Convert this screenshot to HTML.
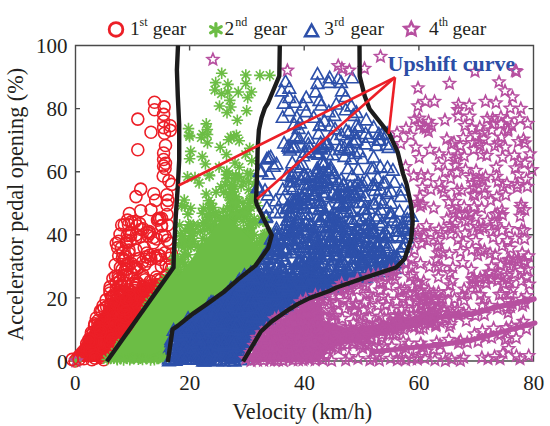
<!DOCTYPE html>
<html><head><meta charset="utf-8"><style>
html,body{margin:0;padding:0;background:#fff;width:550px;height:426px;overflow:hidden}
svg{display:block}
text{font-family:"Liberation Serif",serif;fill:#231f20}
</style></head><body>
<svg width="550" height="426" viewBox="0 0 550 426">
<defs>
<circle id="o" cx="0" cy="0" r="6" fill="none" stroke="#ec1f27" stroke-width="1.6"/>
<path id="a" d="M-5.80 0.00L5.80 0.00M-4.10 -4.10L4.10 4.10M-0.00 -5.80L0.00 5.80M4.10 -4.10L-4.10 4.10" stroke="#6cbd45" stroke-width="1.6"/>
<path id="t" d="M0 -5.6L6.3 5.8L-6.3 5.8Z" fill="none" stroke="#2d50aa" stroke-width="1.65" stroke-linejoin="miter"/>
<polygon id="s" points="0.00,-5.10 1.62,-1.22 5.80,-0.89 2.62,1.85 3.59,5.94 0.00,3.75 -3.59,5.94 -2.62,1.85 -5.80,-0.89 -1.62,-1.22" fill="none" stroke="#b750a0" stroke-width="1.65"/>
</defs>
<path d="M75.5 45.5H533.5V361H75.5Z" fill="none" stroke="#4a4a4a" stroke-width="1.4"/><path d="M189.6 45.5v5M189.6 361v-5M304.2 45.5v5M304.2 361v-5M418.9 45.5v5M418.9 361v-5M75 297.9h5M533.5 297.9h-5M75 234.8h5M533.5 234.8h-5M75 171.7h5M533.5 171.7h-5M75 108.6h5M533.5 108.6h-5" stroke="#4a4a4a" stroke-width="1.4"/><polygon points="125.0,292.0 150.0,282.0 170.0,272.0 111.0,362.0 68.0,362.0 72.0,354.0 80.0,345.0 90.0,330.0 109.0,300.0" fill="#ec1f27" /><use href="#o" x="137.4" y="283.1"/><use href="#o" x="120.9" y="296.7"/><use href="#o" x="122.5" y="258.0"/><use href="#o" x="116.0" y="303.8"/><use href="#o" x="135.7" y="285.1"/><use href="#o" x="128.4" y="264.9"/><use href="#o" x="144.9" y="279.8"/><use href="#o" x="99.5" y="341.6"/><use href="#o" x="160.6" y="280.0"/><use href="#o" x="131.5" y="292.3"/><use href="#o" x="155.4" y="256.2"/><use href="#o" x="158.0" y="218.9"/><use href="#o" x="119.3" y="290.4"/><use href="#o" x="150.3" y="281.2"/><use href="#o" x="135.9" y="281.0"/><use href="#o" x="102.3" y="353.7"/><use href="#o" x="119.0" y="328.2"/><use href="#o" x="142.4" y="262.3"/><use href="#o" x="121.9" y="290.7"/><use href="#o" x="146.9" y="253.0"/><use href="#o" x="116.9" y="315.8"/><use href="#o" x="152.0" y="296.5"/><use href="#o" x="123.0" y="252.9"/><use href="#o" x="126.3" y="243.0"/><use href="#o" x="133.3" y="283.2"/><use href="#o" x="130.1" y="310.3"/><use href="#o" x="142.7" y="296.6"/><use href="#o" x="128.7" y="304.6"/><use href="#o" x="118.6" y="278.7"/><use href="#o" x="118.4" y="311.1"/><use href="#o" x="156.5" y="277.0"/><use href="#o" x="125.7" y="269.2"/><use href="#o" x="161.6" y="226.0"/><use href="#o" x="123.3" y="335.3"/><use href="#o" x="140.3" y="236.6"/><use href="#o" x="132.3" y="320.1"/><use href="#o" x="128.9" y="253.3"/><use href="#o" x="120.4" y="267.4"/><use href="#o" x="126.3" y="323.7"/><use href="#o" x="108.6" y="339.4"/><use href="#o" x="166.6" y="276.3"/><use href="#o" x="106.6" y="306.8"/><use href="#o" x="122.3" y="338.9"/><use href="#o" x="118.7" y="255.7"/><use href="#o" x="169.3" y="266.9"/><use href="#o" x="145.9" y="288.3"/><use href="#o" x="141.1" y="229.5"/><use href="#o" x="126.2" y="326.6"/><use href="#o" x="124.4" y="292.4"/><use href="#o" x="112.8" y="336.7"/><use href="#o" x="117.0" y="294.8"/><use href="#o" x="146.9" y="303.8"/><use href="#o" x="118.1" y="315.1"/><use href="#o" x="149.9" y="285.9"/><use href="#o" x="151.8" y="292.0"/><use href="#o" x="127.7" y="315.5"/><use href="#o" x="117.4" y="305.2"/><use href="#o" x="116.6" y="292.8"/><use href="#o" x="98.1" y="320.5"/><use href="#o" x="134.7" y="323.2"/><use href="#o" x="113.4" y="326.2"/><use href="#o" x="124.4" y="317.0"/><use href="#o" x="135.2" y="287.6"/><use href="#o" x="93.6" y="332.0"/><use href="#o" x="91.9" y="355.0"/><use href="#o" x="124.6" y="283.2"/><use href="#o" x="138.2" y="313.3"/><use href="#o" x="138.6" y="284.0"/><use href="#o" x="147.7" y="261.0"/><use href="#o" x="91.4" y="332.5"/><use href="#o" x="146.9" y="232.2"/><use href="#o" x="115.1" y="340.5"/><use href="#o" x="105.8" y="355.7"/><use href="#o" x="149.8" y="255.1"/><use href="#o" x="120.0" y="281.1"/><use href="#o" x="161.4" y="266.5"/><use href="#o" x="129.5" y="321.7"/><use href="#o" x="117.6" y="247.6"/><use href="#o" x="110.1" y="323.3"/><use href="#o" x="134.1" y="295.2"/><use href="#o" x="129.8" y="292.3"/><use href="#o" x="122.1" y="269.6"/><use href="#o" x="99.7" y="324.9"/><use href="#o" x="133.1" y="323.5"/><use href="#o" x="136.3" y="234.7"/><use href="#o" x="112.5" y="350.5"/><use href="#o" x="126.9" y="265.7"/><use href="#o" x="160.7" y="259.5"/><use href="#o" x="124.4" y="330.2"/><use href="#o" x="130.3" y="241.0"/><use href="#o" x="102.8" y="355.3"/><use href="#o" x="149.5" y="233.5"/><use href="#o" x="132.2" y="274.3"/><use href="#o" x="111.0" y="303.7"/><use href="#o" x="109.1" y="352.1"/><use href="#o" x="124.6" y="294.5"/><use href="#o" x="118.7" y="241.2"/><use href="#o" x="169.7" y="243.3"/><use href="#o" x="128.4" y="309.4"/><use href="#o" x="133.7" y="305.9"/><use href="#o" x="129.0" y="250.1"/><use href="#o" x="118.6" y="286.3"/><use href="#o" x="123.7" y="333.0"/><use href="#o" x="109.0" y="324.1"/><use href="#o" x="133.2" y="312.5"/><use href="#o" x="113.4" y="315.3"/><use href="#o" x="135.0" y="305.4"/><use href="#o" x="103.0" y="305.7"/><use href="#o" x="146.2" y="256.9"/><use href="#o" x="130.8" y="263.1"/><use href="#o" x="171.5" y="268.7"/><use href="#o" x="167.6" y="225.0"/><use href="#o" x="119.8" y="331.2"/><use href="#o" x="139.6" y="223.6"/><use href="#o" x="132.3" y="321.8"/><use href="#o" x="115.2" y="264.7"/><use href="#o" x="110.3" y="339.7"/><use href="#o" x="96.3" y="318.0"/><use href="#o" x="118.8" y="295.5"/><use href="#o" x="166.2" y="264.9"/><use href="#o" x="94.8" y="323.7"/><use href="#o" x="115.9" y="338.1"/><use href="#o" x="155.0" y="284.8"/><use href="#o" x="131.4" y="221.9"/><use href="#o" x="162.3" y="235.4"/><use href="#o" x="159.6" y="218.5"/><use href="#o" x="86.7" y="343.6"/><use href="#o" x="135.0" y="221.6"/><use href="#o" x="103.6" y="328.7"/><use href="#o" x="121.7" y="225.0"/><use href="#o" x="150.9" y="258.9"/><use href="#o" x="116.5" y="300.4"/><use href="#o" x="111.5" y="297.3"/><use href="#o" x="99.4" y="325.5"/><use href="#o" x="91.2" y="335.0"/><use href="#o" x="109.4" y="331.4"/><use href="#o" x="130.4" y="272.5"/><use href="#o" x="144.2" y="247.8"/><use href="#o" x="144.9" y="264.6"/><use href="#o" x="107.5" y="354.4"/><use href="#o" x="134.9" y="288.3"/><use href="#o" x="114.9" y="348.3"/><use href="#o" x="97.0" y="331.9"/><use href="#o" x="103.5" y="326.9"/><use href="#o" x="129.3" y="320.3"/><use href="#o" x="129.8" y="305.3"/><use href="#o" x="160.1" y="255.7"/><use href="#o" x="135.8" y="249.9"/><use href="#o" x="158.4" y="255.2"/><use href="#o" x="137.8" y="308.0"/><use href="#o" x="153.5" y="242.7"/><use href="#o" x="133.6" y="311.7"/><use href="#o" x="143.3" y="286.6"/><use href="#o" x="143.1" y="228.8"/><use href="#o" x="121.3" y="247.9"/><use href="#o" x="164.9" y="235.9"/><use href="#o" x="161.5" y="218.3"/><use href="#o" x="143.8" y="277.7"/><use href="#o" x="113.9" y="331.7"/><use href="#o" x="126.8" y="324.0"/><use href="#o" x="125.8" y="315.2"/><use href="#o" x="156.8" y="239.0"/><use href="#o" x="92.9" y="340.2"/><use href="#o" x="139.5" y="307.0"/><use href="#o" x="118.2" y="276.2"/><use href="#o" x="157.5" y="288.1"/><use href="#o" x="96.9" y="335.2"/><use href="#o" x="112.5" y="339.6"/><use href="#o" x="97.9" y="324.3"/><use href="#o" x="116.1" y="283.1"/><use href="#o" x="142.7" y="274.7"/><use href="#o" x="101.0" y="354.9"/><use href="#o" x="123.9" y="308.9"/><use href="#o" x="116.6" y="315.3"/><use href="#o" x="99.5" y="356.4"/><use href="#o" x="127.0" y="240.2"/><use href="#o" x="141.6" y="291.3"/><use href="#o" x="123.1" y="275.8"/><use href="#o" x="106.1" y="299.9"/><use href="#o" x="134.8" y="290.6"/><use href="#o" x="128.1" y="302.3"/><use href="#o" x="91.8" y="347.7"/><use href="#o" x="109.8" y="324.7"/><use href="#o" x="143.0" y="289.7"/><use href="#o" x="101.8" y="310.6"/><use href="#o" x="112.9" y="278.5"/><use href="#o" x="135.4" y="266.6"/><use href="#o" x="134.5" y="294.3"/><use href="#o" x="124.9" y="306.0"/><use href="#o" x="156.3" y="284.6"/><use href="#o" x="119.0" y="315.4"/><use href="#o" x="169.5" y="258.2"/><use href="#o" x="137.1" y="268.9"/><use href="#o" x="87.1" y="349.9"/><use href="#o" x="106.3" y="354.8"/><use href="#o" x="157.5" y="220.3"/><use href="#o" x="110.1" y="293.0"/><use href="#o" x="131.4" y="299.7"/><use href="#o" x="115.5" y="276.3"/><use href="#o" x="97.4" y="329.4"/><use href="#o" x="123.7" y="260.2"/><use href="#o" x="112.1" y="296.3"/><use href="#o" x="116.3" y="289.6"/><use href="#o" x="171.7" y="254.1"/><use href="#o" x="109.2" y="344.9"/><use href="#o" x="127.0" y="331.4"/><use href="#o" x="142.6" y="299.9"/><use href="#o" x="161.4" y="225.5"/><use href="#o" x="128.8" y="289.9"/><use href="#o" x="133.5" y="324.9"/><use href="#o" x="124.6" y="260.0"/><use href="#o" x="116.5" y="303.4"/><use href="#o" x="128.4" y="295.6"/><use href="#o" x="127.2" y="269.1"/><use href="#o" x="104.3" y="350.5"/><use href="#o" x="109.9" y="290.2"/><use href="#o" x="127.7" y="310.7"/><use href="#o" x="166.0" y="275.6"/><use href="#o" x="126.8" y="329.5"/><use href="#o" x="125.6" y="312.1"/><use href="#o" x="149.2" y="231.6"/><use href="#o" x="153.3" y="237.5"/><use href="#o" x="92.8" y="341.3"/><use href="#o" x="100.3" y="311.0"/><use href="#o" x="129.6" y="232.9"/><use href="#o" x="166.7" y="275.7"/><use href="#o" x="110.3" y="337.0"/><use href="#o" x="120.6" y="285.1"/><use href="#o" x="89.1" y="339.4"/><use href="#o" x="113.9" y="296.3"/><use href="#o" x="134.8" y="268.0"/><use href="#o" x="99.2" y="328.3"/><use href="#o" x="125.3" y="256.7"/><use href="#o" x="165.0" y="252.8"/><use href="#o" x="154.9" y="294.0"/><use href="#o" x="121.1" y="325.3"/><use href="#o" x="114.6" y="324.1"/><use href="#o" x="123.9" y="328.4"/><use href="#o" x="143.5" y="299.7"/><use href="#o" x="114.1" y="350.1"/><use href="#o" x="121.0" y="296.6"/><use href="#o" x="156.6" y="258.2"/><use href="#o" x="91.8" y="353.0"/><use href="#o" x="110.6" y="344.8"/><use href="#o" x="167.1" y="240.2"/><use href="#o" x="94.5" y="325.9"/><use href="#o" x="127.4" y="235.4"/><use href="#o" x="146.0" y="290.0"/><use href="#o" x="107.1" y="354.5"/><use href="#o" x="129.8" y="296.3"/><use href="#o" x="126.3" y="275.1"/><use href="#o" x="146.1" y="299.4"/><use href="#o" x="110.1" y="286.9"/><use href="#o" x="125.9" y="316.9"/><use href="#o" x="124.3" y="224.8"/><use href="#o" x="89.0" y="340.2"/><use href="#o" x="121.7" y="330.5"/><use href="#o" x="104.1" y="308.5"/><use href="#o" x="123.5" y="308.9"/><use href="#o" x="157.9" y="279.6"/><use href="#o" x="148.1" y="235.6"/><use href="#o" x="100.5" y="331.9"/><use href="#o" x="129.9" y="315.8"/><use href="#o" x="135.7" y="238.5"/><use href="#o" x="138.9" y="258.6"/><use href="#o" x="130.7" y="235.4"/><use href="#o" x="109.4" y="308.2"/><use href="#o" x="126.3" y="299.9"/><use href="#o" x="154.5" y="102.2"/><use href="#o" x="154.5" y="109.7"/><use href="#o" x="164.1" y="106.9"/><use href="#o" x="137.8" y="119.1"/><use href="#o" x="163.6" y="114.4"/><use href="#o" x="163.6" y="121.0"/><use href="#o" x="170.2" y="125.7"/><use href="#o" x="151.0" y="132.3"/><use href="#o" x="163.6" y="127.6"/><use href="#o" x="170.2" y="130.4"/><use href="#o" x="164.5" y="133.2"/><use href="#o" x="137.8" y="149.8"/><use href="#o" x="165.5" y="145.5"/><use href="#o" x="163.6" y="153.0"/><use href="#o" x="163.6" y="159.5"/><use href="#o" x="165.5" y="163.3"/><use href="#o" x="163.6" y="166.0"/><use href="#o" x="165.1" y="168.5"/><use href="#o" x="163.2" y="176.0"/><use href="#o" x="168.8" y="180.7"/><use href="#o" x="171.7" y="184.4"/><use href="#o" x="140.7" y="189.1"/><use href="#o" x="136.0" y="196.6"/><use href="#o" x="153.8" y="193.8"/><use href="#o" x="167.0" y="194.7"/><use href="#o" x="155.7" y="200.4"/><use href="#o" x="167.9" y="200.4"/><use href="#o" x="167.0" y="205.0"/><use href="#o" x="151.0" y="209.8"/><use href="#o" x="140.7" y="210.7"/><use href="#o" x="129.4" y="213.5"/><use href="#o" x="127.5" y="220.1"/><use href="#o" x="159.5" y="218.2"/><use href="#o" x="167.0" y="214.5"/><use href="#o" x="128.5" y="224.8"/><use href="#o" x="137.0" y="225.7"/><use href="#o" x="120.0" y="234.2"/><use href="#o" x="116.3" y="243.3"/><use href="#a" x="202.8" y="256.6"/><use href="#a" x="226.9" y="178.6"/><use href="#a" x="182.0" y="292.9"/><use href="#a" x="222.1" y="276.5"/><use href="#a" x="179.0" y="310.9"/><use href="#a" x="183.0" y="262.6"/><use href="#a" x="202.8" y="238.2"/><use href="#a" x="153.4" y="315.1"/><use href="#a" x="160.7" y="338.8"/><use href="#a" x="199.8" y="303.2"/><use href="#a" x="244.0" y="258.1"/><use href="#a" x="226.8" y="243.8"/><use href="#a" x="182.2" y="242.7"/><use href="#a" x="207.5" y="265.5"/><use href="#a" x="161.4" y="320.6"/><use href="#a" x="231.3" y="205.9"/><use href="#a" x="143.5" y="320.0"/><use href="#a" x="205.3" y="288.8"/><use href="#a" x="184.2" y="264.8"/><use href="#a" x="221.2" y="243.9"/><use href="#a" x="154.2" y="324.3"/><use href="#a" x="162.8" y="353.4"/><use href="#a" x="252.9" y="223.6"/><use href="#a" x="162.8" y="304.1"/><use href="#a" x="225.8" y="245.1"/><use href="#a" x="202.3" y="302.8"/><use href="#a" x="200.5" y="231.4"/><use href="#a" x="165.4" y="344.6"/><use href="#a" x="232.5" y="201.5"/><use href="#a" x="166.5" y="286.0"/><use href="#a" x="260.0" y="257.1"/><use href="#a" x="226.8" y="171.4"/><use href="#a" x="181.0" y="275.7"/><use href="#a" x="203.1" y="222.9"/><use href="#a" x="193.4" y="225.1"/><use href="#a" x="207.9" y="298.6"/><use href="#a" x="134.9" y="341.9"/><use href="#a" x="224.4" y="234.6"/><use href="#a" x="128.5" y="345.9"/><use href="#a" x="199.4" y="263.4"/><use href="#a" x="234.6" y="186.8"/><use href="#a" x="213.2" y="207.5"/><use href="#a" x="233.2" y="248.7"/><use href="#a" x="198.9" y="265.8"/><use href="#a" x="140.1" y="333.8"/><use href="#a" x="243.4" y="181.6"/><use href="#a" x="215.8" y="227.0"/><use href="#a" x="172.0" y="276.2"/><use href="#a" x="248.5" y="255.7"/><use href="#a" x="229.1" y="194.6"/><use href="#a" x="185.1" y="230.2"/><use href="#a" x="141.7" y="331.4"/><use href="#a" x="171.7" y="283.2"/><use href="#a" x="223.1" y="281.5"/><use href="#a" x="187.2" y="280.3"/><use href="#a" x="267.2" y="247.0"/><use href="#a" x="247.6" y="233.2"/><use href="#a" x="200.2" y="288.7"/><use href="#a" x="187.5" y="244.9"/><use href="#a" x="138.0" y="347.4"/><use href="#a" x="231.4" y="191.6"/><use href="#a" x="180.6" y="282.9"/><use href="#a" x="185.3" y="278.1"/><use href="#a" x="230.9" y="244.8"/><use href="#a" x="237.9" y="268.7"/><use href="#a" x="191.8" y="271.4"/><use href="#a" x="166.8" y="340.7"/><use href="#a" x="232.3" y="265.9"/><use href="#a" x="246.6" y="243.1"/><use href="#a" x="180.0" y="278.6"/><use href="#a" x="206.8" y="251.0"/><use href="#a" x="136.5" y="344.5"/><use href="#a" x="135.8" y="339.1"/><use href="#a" x="260.6" y="245.1"/><use href="#a" x="191.8" y="279.7"/><use href="#a" x="242.0" y="242.4"/><use href="#a" x="234.3" y="258.3"/><use href="#a" x="215.4" y="212.7"/><use href="#a" x="222.9" y="238.7"/><use href="#a" x="150.7" y="310.2"/><use href="#a" x="207.0" y="283.2"/><use href="#a" x="203.6" y="295.2"/><use href="#a" x="165.5" y="279.1"/><use href="#a" x="250.6" y="207.7"/><use href="#a" x="220.9" y="186.8"/><use href="#a" x="207.7" y="228.9"/><use href="#a" x="244.3" y="261.9"/><use href="#a" x="240.6" y="215.4"/><use href="#a" x="264.3" y="234.3"/><use href="#a" x="188.1" y="254.8"/><use href="#a" x="229.8" y="194.2"/><use href="#a" x="252.7" y="244.1"/><use href="#a" x="265.6" y="249.7"/><use href="#a" x="199.1" y="281.9"/><use href="#a" x="151.3" y="325.0"/><use href="#a" x="185.0" y="264.3"/><use href="#a" x="225.8" y="255.6"/><use href="#a" x="206.5" y="263.5"/><use href="#a" x="243.5" y="231.6"/><use href="#a" x="181.7" y="235.9"/><use href="#a" x="221.1" y="258.3"/><use href="#a" x="235.8" y="219.2"/><use href="#a" x="165.8" y="322.9"/><use href="#a" x="235.2" y="269.6"/><use href="#a" x="165.1" y="355.5"/><use href="#a" x="139.7" y="339.1"/><use href="#a" x="144.0" y="340.9"/><use href="#a" x="248.6" y="257.1"/><use href="#a" x="241.6" y="259.0"/><use href="#a" x="265.7" y="248.3"/><use href="#a" x="236.3" y="196.9"/><use href="#a" x="180.9" y="275.4"/><use href="#a" x="189.5" y="269.2"/><use href="#a" x="209.5" y="207.5"/><use href="#a" x="227.3" y="208.4"/><use href="#a" x="167.3" y="318.5"/><use href="#a" x="179.6" y="274.8"/><use href="#a" x="191.6" y="307.1"/><use href="#a" x="238.4" y="255.0"/><use href="#a" x="115.9" y="355.4"/><use href="#a" x="185.3" y="246.0"/><use href="#a" x="159.2" y="332.7"/><use href="#a" x="150.7" y="341.6"/><use href="#a" x="239.1" y="253.0"/><use href="#a" x="136.2" y="352.8"/><use href="#a" x="249.9" y="221.8"/><use href="#a" x="216.1" y="192.2"/><use href="#a" x="155.3" y="349.6"/><use href="#a" x="206.8" y="223.9"/><use href="#a" x="186.8" y="298.4"/><use href="#a" x="250.1" y="235.0"/><use href="#a" x="148.0" y="319.8"/><use href="#a" x="192.6" y="233.1"/><use href="#a" x="234.8" y="281.2"/><use href="#a" x="150.4" y="315.1"/><use href="#a" x="155.2" y="351.7"/><use href="#a" x="177.2" y="269.4"/><use href="#a" x="239.2" y="176.5"/><use href="#a" x="229.1" y="242.5"/><use href="#a" x="158.5" y="358.4"/><use href="#a" x="156.1" y="339.6"/><use href="#a" x="259.8" y="251.0"/><use href="#a" x="210.3" y="264.8"/><use href="#a" x="173.2" y="308.6"/><use href="#a" x="221.6" y="235.7"/><use href="#a" x="235.4" y="207.2"/><use href="#a" x="181.7" y="205.9"/><use href="#a" x="165.6" y="322.7"/><use href="#a" x="233.5" y="214.2"/><use href="#a" x="178.2" y="314.7"/><use href="#a" x="168.5" y="349.9"/><use href="#a" x="199.2" y="264.7"/><use href="#a" x="160.9" y="339.0"/><use href="#a" x="153.9" y="297.7"/><use href="#a" x="239.1" y="201.0"/><use href="#a" x="155.8" y="298.7"/><use href="#a" x="172.7" y="325.0"/><use href="#a" x="250.4" y="200.8"/><use href="#a" x="167.2" y="327.1"/><use href="#a" x="166.2" y="304.4"/><use href="#a" x="214.7" y="273.3"/><use href="#a" x="260.9" y="238.3"/><use href="#a" x="154.3" y="329.3"/><use href="#a" x="159.2" y="335.2"/><use href="#a" x="165.8" y="332.3"/><use href="#a" x="194.2" y="241.1"/><use href="#a" x="242.3" y="263.0"/><use href="#a" x="159.4" y="291.4"/><use href="#a" x="141.2" y="354.2"/><use href="#a" x="199.6" y="254.3"/><use href="#a" x="246.5" y="216.7"/><use href="#a" x="213.9" y="260.6"/><use href="#a" x="221.7" y="220.8"/><use href="#a" x="150.2" y="306.7"/><use href="#a" x="160.3" y="309.9"/><use href="#a" x="210.7" y="301.0"/><use href="#a" x="209.8" y="293.6"/><use href="#a" x="263.9" y="238.4"/><use href="#a" x="187.1" y="297.8"/><use href="#a" x="206.5" y="268.3"/><use href="#a" x="241.6" y="247.7"/><use href="#a" x="192.9" y="290.7"/><use href="#a" x="128.0" y="339.1"/><use href="#a" x="208.5" y="259.6"/><use href="#a" x="229.7" y="239.7"/><use href="#a" x="232.2" y="198.2"/><use href="#a" x="208.9" y="274.8"/><use href="#a" x="195.5" y="290.3"/><use href="#a" x="121.9" y="343.1"/><use href="#a" x="192.7" y="265.3"/><use href="#a" x="211.1" y="253.6"/><use href="#a" x="214.3" y="232.1"/><use href="#a" x="200.8" y="253.5"/><use href="#a" x="141.7" y="319.9"/><use href="#a" x="126.8" y="348.1"/><use href="#a" x="226.1" y="288.2"/><use href="#a" x="223.7" y="236.3"/><use href="#a" x="260.2" y="243.1"/><use href="#a" x="119.6" y="347.5"/><use href="#a" x="177.4" y="302.0"/><use href="#a" x="174.0" y="327.2"/><use href="#a" x="165.1" y="282.3"/><use href="#a" x="240.2" y="232.2"/><use href="#a" x="248.0" y="225.3"/><use href="#a" x="167.5" y="318.6"/><use href="#a" x="237.1" y="216.3"/><use href="#a" x="249.0" y="239.1"/><use href="#a" x="205.9" y="248.6"/><use href="#a" x="189.1" y="238.4"/><use href="#a" x="225.9" y="239.3"/><use href="#a" x="233.2" y="236.6"/><use href="#a" x="226.0" y="217.0"/><use href="#a" x="223.7" y="192.5"/><use href="#a" x="243.1" y="258.9"/><use href="#a" x="187.9" y="273.4"/><use href="#a" x="255.6" y="223.5"/><use href="#a" x="266.1" y="233.7"/><use href="#a" x="231.9" y="185.5"/><use href="#a" x="207.7" y="219.7"/><use href="#a" x="201.2" y="262.1"/><use href="#a" x="206.2" y="274.4"/><use href="#a" x="232.6" y="238.3"/><use href="#a" x="168.9" y="313.9"/><use href="#a" x="178.2" y="288.0"/><use href="#a" x="253.4" y="260.8"/><use href="#a" x="140.4" y="327.4"/><use href="#a" x="139.1" y="348.5"/><use href="#a" x="200.3" y="272.2"/><use href="#a" x="178.2" y="260.9"/><use href="#a" x="217.3" y="274.4"/><use href="#a" x="146.8" y="343.8"/><use href="#a" x="242.7" y="210.1"/><use href="#a" x="211.0" y="249.2"/><use href="#a" x="138.4" y="340.0"/><use href="#a" x="206.8" y="240.7"/><use href="#a" x="249.8" y="233.5"/><use href="#a" x="169.1" y="305.4"/><use href="#a" x="144.3" y="332.0"/><use href="#a" x="254.2" y="218.7"/><use href="#a" x="130.5" y="353.9"/><use href="#a" x="229.9" y="200.0"/><use href="#a" x="186.6" y="315.2"/><use href="#a" x="202.1" y="275.3"/><use href="#a" x="222.9" y="277.8"/><use href="#a" x="179.1" y="287.1"/><use href="#a" x="218.3" y="259.4"/><use href="#a" x="227.7" y="229.2"/><use href="#a" x="172.4" y="327.9"/><use href="#a" x="241.1" y="186.2"/><use href="#a" x="186.0" y="309.9"/><use href="#a" x="180.4" y="259.9"/><use href="#a" x="235.9" y="175.5"/><use href="#a" x="250.4" y="259.7"/><use href="#a" x="163.3" y="328.8"/><use href="#a" x="215.5" y="215.7"/><use href="#a" x="257.3" y="205.7"/><use href="#a" x="132.2" y="347.5"/><use href="#a" x="172.7" y="294.9"/><use href="#a" x="207.8" y="283.7"/><use href="#a" x="213.3" y="228.0"/><use href="#a" x="250.1" y="268.5"/><use href="#a" x="152.0" y="356.7"/><use href="#a" x="208.4" y="296.0"/><use href="#a" x="148.6" y="336.3"/><use href="#a" x="189.9" y="243.5"/><use href="#a" x="253.6" y="193.9"/><use href="#a" x="237.1" y="177.7"/><use href="#a" x="205.7" y="271.3"/><use href="#a" x="213.2" y="234.0"/><use href="#a" x="178.7" y="245.6"/><use href="#a" x="183.6" y="318.2"/><use href="#a" x="190.8" y="247.3"/><use href="#a" x="120.4" y="345.1"/><use href="#a" x="250.3" y="173.7"/><use href="#a" x="144.8" y="337.4"/><use href="#a" x="158.4" y="340.3"/><use href="#a" x="182.2" y="293.4"/><use href="#a" x="261.3" y="247.6"/><use href="#a" x="242.7" y="252.4"/><use href="#a" x="187.9" y="214.1"/><use href="#a" x="174.2" y="258.4"/><use href="#a" x="160.4" y="334.6"/><use href="#a" x="220.1" y="253.0"/><use href="#a" x="219.1" y="267.3"/><use href="#a" x="168.3" y="348.7"/><use href="#a" x="140.0" y="343.3"/><use href="#a" x="257.0" y="243.6"/><use href="#a" x="180.5" y="233.8"/><use href="#a" x="215.4" y="248.9"/><use href="#a" x="222.9" y="229.7"/><use href="#a" x="211.0" y="203.4"/><use href="#a" x="157.4" y="345.9"/><use href="#a" x="223.9" y="244.3"/><use href="#a" x="266.1" y="250.6"/><use href="#a" x="214.2" y="286.0"/><use href="#a" x="157.4" y="294.8"/><use href="#a" x="263.0" y="240.3"/><use href="#a" x="158.7" y="348.8"/><use href="#a" x="184.0" y="247.7"/><use href="#a" x="207.4" y="218.0"/><use href="#a" x="185.1" y="296.0"/><use href="#a" x="133.8" y="358.7"/><use href="#a" x="198.1" y="246.4"/><use href="#a" x="243.0" y="203.2"/><use href="#a" x="154.9" y="324.9"/><use href="#a" x="134.8" y="346.7"/><use href="#a" x="184.6" y="244.1"/><use href="#a" x="270.7" y="233.3"/><use href="#a" x="171.2" y="271.3"/><use href="#a" x="188.8" y="224.7"/><use href="#a" x="249.6" y="255.7"/><use href="#a" x="233.2" y="240.3"/><use href="#a" x="202.9" y="255.2"/><use href="#a" x="172.2" y="275.4"/><use href="#a" x="169.0" y="283.6"/><use href="#a" x="202.6" y="304.6"/><use href="#a" x="170.2" y="325.0"/><use href="#a" x="240.5" y="249.0"/><use href="#a" x="143.6" y="349.5"/><use href="#a" x="247.5" y="232.3"/><use href="#a" x="250.2" y="257.2"/><use href="#a" x="235.9" y="275.7"/><use href="#a" x="179.3" y="288.7"/><use href="#a" x="235.3" y="206.6"/><use href="#a" x="164.1" y="289.4"/><use href="#a" x="249.7" y="200.3"/><use href="#a" x="179.5" y="292.2"/><use href="#a" x="232.0" y="243.6"/><use href="#a" x="202.6" y="249.7"/><use href="#a" x="242.9" y="209.9"/><use href="#a" x="181.1" y="302.7"/><use href="#a" x="227.4" y="269.5"/><use href="#a" x="165.0" y="286.5"/><use href="#a" x="240.8" y="276.7"/><use href="#a" x="240.6" y="233.7"/><use href="#a" x="155.8" y="320.7"/><use href="#a" x="150.2" y="323.9"/><use href="#a" x="216.9" y="235.9"/><use href="#a" x="268.7" y="236.8"/><use href="#a" x="201.7" y="246.8"/><use href="#a" x="266.8" y="236.1"/><use href="#a" x="160.6" y="305.8"/><use href="#a" x="162.5" y="347.5"/><use href="#a" x="155.0" y="352.3"/><use href="#a" x="229.2" y="220.1"/><use href="#a" x="156.3" y="329.7"/><use href="#a" x="132.3" y="348.2"/><use href="#a" x="177.3" y="303.3"/><use href="#a" x="229.6" y="264.7"/><use href="#a" x="139.9" y="338.8"/><use href="#a" x="206.2" y="194.0"/><use href="#a" x="188.4" y="290.1"/><use href="#a" x="156.1" y="329.5"/><use href="#a" x="214.3" y="245.5"/><use href="#a" x="179.6" y="275.9"/><use href="#a" x="203.9" y="252.7"/><use href="#a" x="215.8" y="237.2"/><use href="#a" x="164.2" y="301.3"/><use href="#a" x="209.5" y="241.5"/><use href="#a" x="226.6" y="233.7"/><use href="#a" x="172.1" y="294.9"/><use href="#a" x="205.7" y="294.8"/><use href="#a" x="208.6" y="217.3"/><use href="#a" x="181.6" y="288.1"/><use href="#a" x="156.9" y="328.8"/><use href="#a" x="151.2" y="347.9"/><use href="#a" x="235.7" y="267.9"/><use href="#a" x="221.4" y="245.1"/><use href="#a" x="180.7" y="276.6"/><use href="#a" x="169.1" y="327.0"/><use href="#a" x="188.0" y="299.6"/><use href="#a" x="232.5" y="225.6"/><use href="#a" x="250.2" y="262.4"/><use href="#a" x="161.1" y="307.1"/><use href="#a" x="225.4" y="268.0"/><use href="#a" x="155.8" y="317.6"/><use href="#a" x="166.9" y="334.2"/><use href="#a" x="222.4" y="285.9"/><use href="#a" x="238.1" y="275.9"/><use href="#a" x="168.7" y="337.5"/><use href="#a" x="149.7" y="302.3"/><use href="#a" x="120.6" y="352.5"/><use href="#a" x="202.0" y="263.2"/><use href="#a" x="116.9" y="358.7"/><use href="#a" x="208.0" y="253.0"/><use href="#a" x="234.3" y="203.4"/><use href="#a" x="146.4" y="336.7"/><use href="#a" x="233.4" y="191.9"/><use href="#a" x="153.2" y="338.1"/><use href="#a" x="210.6" y="224.6"/><use href="#a" x="222.7" y="241.2"/><use href="#a" x="226.3" y="277.5"/><use href="#a" x="249.0" y="233.7"/><use href="#a" x="250.7" y="236.1"/><use href="#a" x="184.6" y="254.2"/><use href="#a" x="206.4" y="286.4"/><use href="#a" x="206.3" y="264.7"/><use href="#a" x="153.1" y="338.0"/><use href="#a" x="159.6" y="323.5"/><use href="#a" x="202.2" y="213.2"/><use href="#a" x="208.6" y="289.3"/><use href="#a" x="159.5" y="337.7"/><use href="#a" x="122.3" y="348.0"/><use href="#a" x="214.4" y="261.1"/><use href="#a" x="184.7" y="206.2"/><use href="#a" x="231.9" y="234.9"/><use href="#a" x="208.6" y="200.8"/><use href="#a" x="208.3" y="213.9"/><use href="#a" x="194.0" y="308.5"/><use href="#a" x="230.5" y="267.3"/><use href="#a" x="136.5" y="343.4"/><use href="#a" x="160.3" y="344.5"/><use href="#a" x="230.0" y="221.3"/><use href="#a" x="184.4" y="238.9"/><use href="#a" x="186.8" y="276.3"/><use href="#a" x="214.8" y="221.8"/><use href="#a" x="248.0" y="210.5"/><use href="#a" x="204.3" y="260.3"/><use href="#a" x="202.9" y="252.5"/><use href="#a" x="174.0" y="311.7"/><use href="#a" x="177.0" y="300.4"/><use href="#a" x="215.6" y="214.3"/><use href="#a" x="220.2" y="218.5"/><use href="#a" x="197.3" y="246.9"/><use href="#a" x="156.0" y="335.8"/><use href="#a" x="225.4" y="261.1"/><use href="#a" x="185.4" y="255.9"/><use href="#a" x="261.3" y="219.5"/><use href="#a" x="206.7" y="272.6"/><use href="#a" x="230.5" y="208.9"/><use href="#a" x="118.2" y="350.8"/><use href="#a" x="229.8" y="256.5"/><use href="#a" x="156.4" y="325.2"/><use href="#a" x="241.6" y="240.3"/><use href="#a" x="225.5" y="184.5"/><use href="#a" x="170.0" y="301.2"/><use href="#a" x="155.4" y="320.5"/><use href="#a" x="240.7" y="260.7"/><use href="#a" x="208.0" y="299.0"/><use href="#a" x="166.5" y="327.9"/><use href="#a" x="213.8" y="286.8"/><use href="#a" x="191.2" y="229.0"/><use href="#a" x="203.3" y="208.3"/><use href="#a" x="175.3" y="319.0"/><use href="#a" x="196.1" y="277.5"/><use href="#a" x="217.3" y="287.7"/><use href="#a" x="156.8" y="314.2"/><use href="#a" x="206.7" y="299.8"/><use href="#a" x="155.9" y="335.7"/><use href="#a" x="168.7" y="330.0"/><use href="#a" x="139.2" y="349.9"/><use href="#a" x="229.0" y="173.6"/><use href="#a" x="174.4" y="327.3"/><use href="#a" x="235.4" y="177.9"/><use href="#a" x="262.9" y="221.3"/><use href="#a" x="162.3" y="284.6"/><use href="#a" x="194.3" y="311.6"/><use href="#a" x="132.1" y="342.6"/><use href="#a" x="193.0" y="289.4"/><use href="#a" x="179.8" y="299.6"/><use href="#a" x="243.3" y="221.2"/><use href="#a" x="223.8" y="251.8"/><use href="#a" x="264.1" y="219.9"/><use href="#a" x="179.6" y="224.9"/><use href="#a" x="239.1" y="212.1"/><use href="#a" x="232.8" y="215.9"/><use href="#a" x="234.6" y="268.0"/><use href="#a" x="232.5" y="215.3"/><use href="#a" x="237.7" y="235.8"/><use href="#a" x="197.3" y="299.0"/><use href="#a" x="202.1" y="304.9"/><use href="#a" x="190.2" y="292.8"/><use href="#a" x="176.9" y="322.3"/><use href="#a" x="191.9" y="235.8"/><use href="#a" x="173.1" y="301.5"/><use href="#a" x="254.1" y="184.3"/><use href="#a" x="189.4" y="285.8"/><use href="#a" x="264.0" y="221.4"/><use href="#a" x="131.2" y="350.8"/><use href="#a" x="220.8" y="241.3"/><use href="#a" x="241.0" y="230.7"/><use href="#a" x="140.9" y="350.4"/><use href="#a" x="156.4" y="351.0"/><use href="#a" x="235.1" y="221.6"/><use href="#a" x="250.6" y="198.7"/><use href="#a" x="222.5" y="278.8"/><use href="#a" x="202.5" y="304.5"/><use href="#a" x="185.5" y="313.5"/><use href="#a" x="190.5" y="273.3"/><use href="#a" x="151.5" y="305.4"/><use href="#a" x="183.2" y="273.5"/><use href="#a" x="251.2" y="265.0"/><use href="#a" x="162.1" y="328.9"/><use href="#a" x="251.0" y="228.4"/><use href="#a" x="213.7" y="250.8"/><use href="#a" x="198.0" y="225.6"/><use href="#a" x="236.0" y="213.3"/><use href="#a" x="202.8" y="276.2"/><use href="#a" x="242.1" y="214.9"/><use href="#a" x="235.4" y="202.9"/><use href="#a" x="156.7" y="349.1"/><use href="#a" x="130.0" y="358.5"/><use href="#a" x="184.7" y="295.9"/><use href="#a" x="253.9" y="199.8"/><use href="#a" x="195.0" y="177.6"/><use href="#a" x="118.1" y="356.8"/><use href="#a" x="196.5" y="264.8"/><use href="#a" x="126.7" y="347.4"/><use href="#a" x="148.9" y="315.5"/><use href="#a" x="139.1" y="328.9"/><use href="#a" x="220.7" y="266.9"/><use href="#a" x="218.5" y="260.6"/><use href="#a" x="165.0" y="349.9"/><use href="#a" x="190.1" y="308.0"/><use href="#a" x="233.3" y="196.1"/><use href="#a" x="172.4" y="301.2"/><use href="#a" x="195.6" y="302.4"/><use href="#a" x="257.4" y="259.6"/><use href="#a" x="248.8" y="206.1"/><use href="#a" x="264.2" y="238.2"/><use href="#a" x="143.6" y="347.0"/><use href="#a" x="150.1" y="347.3"/><use href="#a" x="248.7" y="189.8"/><use href="#a" x="115.1" y="352.1"/><use href="#a" x="150.2" y="311.2"/><use href="#a" x="175.3" y="267.1"/><use href="#a" x="251.1" y="224.5"/><use href="#a" x="222.3" y="255.8"/><use href="#a" x="110.5" y="358.5"/><use href="#a" x="206.1" y="280.6"/><use href="#a" x="124.7" y="355.1"/><use href="#a" x="164.3" y="290.5"/><use href="#a" x="190.1" y="229.3"/><use href="#a" x="229.4" y="197.2"/><use href="#a" x="168.2" y="281.9"/><use href="#a" x="226.1" y="265.0"/><use href="#a" x="247.4" y="234.5"/><use href="#a" x="190.5" y="225.4"/><use href="#a" x="247.5" y="214.9"/><use href="#a" x="245.1" y="213.0"/><use href="#a" x="248.4" y="181.5"/><use href="#a" x="192.9" y="232.4"/><use href="#a" x="222.7" y="279.7"/><use href="#a" x="142.4" y="347.5"/><use href="#a" x="202.5" y="262.0"/><use href="#a" x="140.5" y="358.2"/><use href="#a" x="199.7" y="304.5"/><use href="#a" x="171.6" y="295.0"/><use href="#a" x="142.9" y="324.2"/><use href="#a" x="231.3" y="184.6"/><use href="#a" x="177.8" y="263.7"/><use href="#a" x="254.4" y="234.9"/><use href="#a" x="231.9" y="257.1"/><use href="#a" x="212.3" y="230.0"/><use href="#a" x="153.7" y="326.8"/><use href="#a" x="236.6" y="272.0"/><use href="#a" x="186.1" y="275.1"/><use href="#a" x="175.5" y="269.0"/><use href="#a" x="176.1" y="256.8"/><use href="#a" x="181.8" y="239.6"/><use href="#a" x="160.4" y="333.3"/><use href="#a" x="189.3" y="310.5"/><use href="#a" x="187.3" y="277.8"/><use href="#a" x="223.4" y="211.2"/><use href="#a" x="177.7" y="310.5"/><use href="#a" x="243.2" y="251.9"/><use href="#a" x="185.8" y="274.9"/><use href="#a" x="189.2" y="305.3"/><use href="#a" x="187.3" y="283.8"/><use href="#a" x="158.8" y="332.8"/><use href="#a" x="204.8" y="229.6"/><use href="#a" x="147.4" y="328.7"/><use href="#a" x="146.8" y="307.6"/><use href="#a" x="169.0" y="314.8"/><use href="#a" x="209.2" y="175.1"/><use href="#a" x="194.2" y="288.3"/><use href="#a" x="184.7" y="312.2"/><polygon points="225.0,214.0 262.0,250.0 253.4,265.6 235.8,279.6 221.7,292.0 205.9,303.4 191.8,313.1 183.0,320.0 176.0,325.6 170.5,329.4 165.8,362.0 110.0,362.0 172.0,272.0 178.0,277.0" fill="#6cbd45" /><use href="#a" x="221.7" y="73.2"/><use href="#a" x="245.8" y="75.0"/><use href="#a" x="259.9" y="75.4"/><use href="#a" x="269.8" y="75.4"/><use href="#a" x="215.7" y="82.6"/><use href="#a" x="227.9" y="84.4"/><use href="#a" x="245.8" y="83.5"/><use href="#a" x="214.8" y="90.0"/><use href="#a" x="221.4" y="93.8"/><use href="#a" x="227.9" y="92.0"/><use href="#a" x="238.3" y="92.0"/><use href="#a" x="251.4" y="92.0"/><use href="#a" x="247.7" y="97.6"/><use href="#a" x="229.8" y="100.4"/><use href="#a" x="219.5" y="106.0"/><use href="#a" x="230.8" y="107.0"/><use href="#a" x="227.0" y="112.6"/><use href="#a" x="246.7" y="110.8"/><use href="#a" x="237.3" y="120.2"/><use href="#a" x="188.5" y="128.6"/><use href="#a" x="206.3" y="123.9"/><use href="#a" x="207.3" y="129.5"/><use href="#a" x="202.6" y="134.2"/><use href="#a" x="189.4" y="135.2"/><use href="#a" x="230.8" y="137.0"/><use href="#a" x="236.4" y="135.2"/><use href="#a" x="207.5" y="134.5"/><use href="#a" x="189.6" y="136.6"/><use href="#a" x="201.2" y="137.7"/><use href="#a" x="233.9" y="136.6"/><use href="#a" x="228.6" y="139.8"/><use href="#a" x="239.2" y="140.8"/><use href="#a" x="207.5" y="143.0"/><use href="#a" x="220.2" y="147.2"/><use href="#a" x="249.7" y="148.2"/><use href="#a" x="190.7" y="151.4"/><use href="#a" x="202.3" y="156.6"/><use href="#a" x="189.6" y="158.8"/><use href="#a" x="226.5" y="154.5"/><use href="#a" x="245.5" y="154.5"/><use href="#a" x="251.8" y="160.9"/><use href="#a" x="205.4" y="164.0"/><use href="#a" x="235.0" y="163.0"/><use href="#a" x="219.1" y="167.2"/><use href="#a" x="239.2" y="167.2"/><use href="#a" x="187.5" y="176.7"/><use href="#a" x="209.6" y="175.6"/><use href="#a" x="226.5" y="174.6"/><use href="#a" x="247.6" y="173.5"/><use href="#a" x="199.1" y="183.0"/><use href="#a" x="184.3" y="200.0"/><use href="#a" x="190.7" y="208.3"/><polygon points="262.0,272.0 300.0,276.0 350.0,272.0 380.0,272.0 363.6,282.2 336.4,291.5 330.0,294.8 309.6,302.1 298.0,307.9 286.4,315.2 271.8,325.4 260.9,335.5 243.1,362.0 169.0,362.0 170.8,362.0 175.5,329.4 181.0,325.6 188.0,320.0 196.8,313.1 210.9,303.4 226.7,292.0 240.8,279.6 258.4,265.6" fill="#2d50aa" /><use href="#t" x="277.8" y="274.2"/><use href="#t" x="226.9" y="332.7"/><use href="#t" x="223.5" y="344.8"/><use href="#t" x="371.8" y="223.7"/><use href="#t" x="276.9" y="280.5"/><use href="#t" x="335.4" y="226.7"/><use href="#t" x="261.7" y="268.5"/><use href="#t" x="329.6" y="249.8"/><use href="#t" x="215.2" y="334.3"/><use href="#t" x="296.0" y="135.0"/><use href="#t" x="186.7" y="336.5"/><use href="#t" x="294.9" y="248.5"/><use href="#t" x="211.1" y="301.4"/><use href="#t" x="290.4" y="231.2"/><use href="#t" x="266.9" y="289.3"/><use href="#t" x="293.1" y="187.9"/><use href="#t" x="204.8" y="316.5"/><use href="#t" x="285.3" y="284.1"/><use href="#t" x="389.1" y="259.2"/><use href="#t" x="288.7" y="216.0"/><use href="#t" x="246.8" y="318.2"/><use href="#t" x="363.4" y="264.2"/><use href="#t" x="287.1" y="219.2"/><use href="#t" x="308.9" y="287.9"/><use href="#t" x="321.7" y="291.7"/><use href="#t" x="358.2" y="270.3"/><use href="#t" x="310.3" y="175.5"/><use href="#t" x="311.1" y="265.5"/><use href="#t" x="328.6" y="245.6"/><use href="#t" x="253.7" y="290.5"/><use href="#t" x="399.6" y="210.4"/><use href="#t" x="195.1" y="341.6"/><use href="#t" x="353.6" y="194.6"/><use href="#t" x="185.5" y="352.2"/><use href="#t" x="351.5" y="247.2"/><use href="#t" x="223.9" y="305.7"/><use href="#t" x="171.4" y="338.3"/><use href="#t" x="354.6" y="191.8"/><use href="#t" x="341.2" y="186.2"/><use href="#t" x="341.1" y="178.7"/><use href="#t" x="369.1" y="236.5"/><use href="#t" x="277.1" y="248.3"/><use href="#t" x="346.1" y="236.4"/><use href="#t" x="179.6" y="333.2"/><use href="#t" x="275.6" y="199.9"/><use href="#t" x="303.7" y="207.1"/><use href="#t" x="286.9" y="310.2"/><use href="#t" x="264.9" y="258.4"/><use href="#t" x="381.9" y="256.4"/><use href="#t" x="288.4" y="266.9"/><use href="#t" x="328.3" y="207.0"/><use href="#t" x="324.7" y="177.6"/><use href="#t" x="280.3" y="286.0"/><use href="#t" x="292.7" y="180.7"/><use href="#t" x="306.6" y="176.7"/><use href="#t" x="304.4" y="199.0"/><use href="#t" x="173.7" y="343.5"/><use href="#t" x="374.9" y="249.0"/><use href="#t" x="268.0" y="317.8"/><use href="#t" x="385.4" y="232.1"/><use href="#t" x="407.2" y="236.9"/><use href="#t" x="249.8" y="285.0"/><use href="#t" x="203.2" y="343.0"/><use href="#t" x="323.3" y="170.7"/><use href="#t" x="304.4" y="259.3"/><use href="#t" x="344.1" y="183.5"/><use href="#t" x="352.2" y="174.6"/><use href="#t" x="329.5" y="223.5"/><use href="#t" x="257.9" y="282.1"/><use href="#t" x="295.9" y="227.8"/><use href="#t" x="381.7" y="268.6"/><use href="#t" x="253.5" y="307.9"/><use href="#t" x="381.8" y="133.6"/><use href="#t" x="301.6" y="296.5"/><use href="#t" x="297.1" y="224.4"/><use href="#t" x="238.8" y="306.2"/><use href="#t" x="344.7" y="204.6"/><use href="#t" x="310.0" y="264.3"/><use href="#t" x="270.0" y="286.0"/><use href="#t" x="182.7" y="335.3"/><use href="#t" x="275.8" y="234.1"/><use href="#t" x="332.1" y="217.1"/><use href="#t" x="291.8" y="175.9"/><use href="#t" x="382.5" y="236.2"/><use href="#t" x="289.3" y="147.0"/><use href="#t" x="300.2" y="246.3"/><use href="#t" x="323.5" y="282.5"/><use href="#t" x="388.2" y="260.6"/><use href="#t" x="239.1" y="311.4"/><use href="#t" x="240.6" y="351.8"/><use href="#t" x="314.5" y="235.1"/><use href="#t" x="258.3" y="296.9"/><use href="#t" x="276.9" y="247.7"/><use href="#t" x="343.2" y="194.8"/><use href="#t" x="344.9" y="225.6"/><use href="#t" x="327.4" y="141.5"/><use href="#t" x="380.8" y="208.8"/><use href="#t" x="183.4" y="335.3"/><use href="#t" x="255.0" y="326.8"/><use href="#t" x="336.4" y="286.6"/><use href="#t" x="220.4" y="338.9"/><use href="#t" x="321.9" y="272.6"/><use href="#t" x="377.0" y="242.8"/><use href="#t" x="371.2" y="167.7"/><use href="#t" x="221.5" y="337.0"/><use href="#t" x="226.9" y="346.8"/><use href="#t" x="310.5" y="260.2"/><use href="#t" x="237.6" y="317.3"/><use href="#t" x="391.4" y="212.8"/><use href="#t" x="298.1" y="217.0"/><use href="#t" x="380.3" y="261.5"/><use href="#t" x="347.4" y="141.4"/><use href="#t" x="387.0" y="192.6"/><use href="#t" x="233.1" y="337.8"/><use href="#t" x="341.3" y="133.7"/><use href="#t" x="342.1" y="279.9"/><use href="#t" x="380.6" y="250.2"/><use href="#t" x="321.4" y="180.6"/><use href="#t" x="318.0" y="187.7"/><use href="#t" x="256.0" y="301.0"/><use href="#t" x="365.0" y="195.1"/><use href="#t" x="287.4" y="219.2"/><use href="#t" x="321.9" y="161.3"/><use href="#t" x="332.8" y="192.3"/><use href="#t" x="258.5" y="284.9"/><use href="#t" x="250.7" y="330.1"/><use href="#t" x="206.6" y="327.9"/><use href="#t" x="186.0" y="352.4"/><use href="#t" x="350.9" y="194.4"/><use href="#t" x="203.3" y="342.7"/><use href="#t" x="300.6" y="178.3"/><use href="#t" x="362.5" y="261.3"/><use href="#t" x="289.1" y="307.7"/><use href="#t" x="373.5" y="232.4"/><use href="#t" x="190.1" y="329.5"/><use href="#t" x="255.5" y="283.8"/><use href="#t" x="317.9" y="281.0"/><use href="#t" x="338.1" y="213.2"/><use href="#t" x="290.3" y="180.8"/><use href="#t" x="331.7" y="285.1"/><use href="#t" x="186.4" y="324.0"/><use href="#t" x="380.7" y="251.8"/><use href="#t" x="344.7" y="239.7"/><use href="#t" x="339.0" y="201.5"/><use href="#t" x="264.6" y="284.3"/><use href="#t" x="306.8" y="188.0"/><use href="#t" x="338.5" y="254.9"/><use href="#t" x="312.0" y="285.0"/><use href="#t" x="262.6" y="311.7"/><use href="#t" x="277.4" y="292.6"/><use href="#t" x="185.3" y="348.4"/><use href="#t" x="312.0" y="266.8"/><use href="#t" x="371.1" y="246.3"/><use href="#t" x="232.3" y="346.8"/><use href="#t" x="335.2" y="249.8"/><use href="#t" x="376.3" y="144.6"/><use href="#t" x="355.7" y="139.0"/><use href="#t" x="243.4" y="345.7"/><use href="#t" x="224.4" y="305.2"/><use href="#t" x="357.3" y="218.3"/><use href="#t" x="212.4" y="332.5"/><use href="#t" x="266.9" y="158.1"/><use href="#t" x="293.5" y="243.5"/><use href="#t" x="311.1" y="243.3"/><use href="#t" x="209.5" y="356.5"/><use href="#t" x="334.9" y="273.2"/><use href="#t" x="291.5" y="293.2"/><use href="#t" x="213.4" y="326.9"/><use href="#t" x="389.9" y="261.4"/><use href="#t" x="288.2" y="145.4"/><use href="#t" x="255.8" y="298.5"/><use href="#t" x="297.8" y="221.4"/><use href="#t" x="233.8" y="353.4"/><use href="#t" x="331.8" y="284.3"/><use href="#t" x="325.3" y="249.6"/><use href="#t" x="246.1" y="331.1"/><use href="#t" x="313.6" y="248.2"/><use href="#t" x="301.3" y="273.5"/><use href="#t" x="191.0" y="332.2"/><use href="#t" x="394.4" y="181.4"/><use href="#t" x="318.5" y="215.8"/><use href="#t" x="317.8" y="247.2"/><use href="#t" x="319.7" y="124.7"/><use href="#t" x="346.5" y="229.1"/><use href="#t" x="323.9" y="273.5"/><use href="#t" x="373.7" y="167.5"/><use href="#t" x="297.8" y="243.0"/><use href="#t" x="298.1" y="229.6"/><use href="#t" x="241.5" y="289.7"/><use href="#t" x="192.1" y="345.6"/><use href="#t" x="230.3" y="295.0"/><use href="#t" x="313.1" y="233.2"/><use href="#t" x="365.7" y="224.6"/><use href="#t" x="290.7" y="215.2"/><use href="#t" x="351.4" y="238.5"/><use href="#t" x="312.6" y="236.7"/><use href="#t" x="335.9" y="233.9"/><use href="#t" x="275.5" y="307.1"/><use href="#t" x="312.2" y="276.6"/><use href="#t" x="282.4" y="267.4"/><use href="#t" x="314.5" y="274.0"/><use href="#t" x="176.7" y="340.7"/><use href="#t" x="291.5" y="198.8"/><use href="#t" x="366.3" y="276.0"/><use href="#t" x="383.3" y="181.9"/><use href="#t" x="270.7" y="156.0"/><use href="#t" x="297.2" y="268.3"/><use href="#t" x="206.1" y="341.0"/><use href="#t" x="253.3" y="301.2"/><use href="#t" x="243.7" y="344.7"/><use href="#t" x="388.6" y="146.6"/><use href="#t" x="396.5" y="230.1"/><use href="#t" x="339.6" y="148.8"/><use href="#t" x="359.7" y="191.9"/><use href="#t" x="372.8" y="184.0"/><use href="#t" x="299.2" y="260.7"/><use href="#t" x="369.8" y="253.3"/><use href="#t" x="390.7" y="216.2"/><use href="#t" x="308.8" y="240.0"/><use href="#t" x="292.5" y="172.8"/><use href="#t" x="372.7" y="263.3"/><use href="#t" x="403.8" y="228.1"/><use href="#t" x="286.9" y="300.1"/><use href="#t" x="356.8" y="227.5"/><use href="#t" x="344.4" y="155.5"/><use href="#t" x="337.4" y="196.8"/><use href="#t" x="348.9" y="149.1"/><use href="#t" x="223.2" y="314.4"/><use href="#t" x="343.3" y="183.8"/><use href="#t" x="254.3" y="332.1"/><use href="#t" x="384.9" y="267.3"/><use href="#t" x="360.5" y="231.7"/><use href="#t" x="368.3" y="230.9"/><use href="#t" x="301.8" y="195.3"/><use href="#t" x="375.2" y="184.3"/><use href="#t" x="378.8" y="133.1"/><use href="#t" x="181.8" y="348.7"/><use href="#t" x="316.2" y="267.7"/><use href="#t" x="245.3" y="314.2"/><use href="#t" x="381.0" y="224.4"/><use href="#t" x="244.8" y="286.2"/><use href="#t" x="350.6" y="210.5"/><use href="#t" x="298.5" y="260.1"/><use href="#t" x="338.0" y="225.3"/><use href="#t" x="344.2" y="264.0"/><use href="#t" x="194.7" y="334.2"/><use href="#t" x="270.1" y="277.0"/><use href="#t" x="327.8" y="269.4"/><use href="#t" x="406.1" y="229.5"/><use href="#t" x="349.7" y="231.9"/><use href="#t" x="279.2" y="297.6"/><use href="#t" x="250.6" y="316.7"/><use href="#t" x="309.7" y="290.5"/><use href="#t" x="296.7" y="279.4"/><use href="#t" x="354.7" y="248.7"/><use href="#t" x="314.1" y="286.3"/><use href="#t" x="206.9" y="358.0"/><use href="#t" x="347.6" y="246.5"/><use href="#t" x="390.0" y="264.4"/><use href="#t" x="324.7" y="226.8"/><use href="#t" x="279.3" y="250.7"/><use href="#t" x="290.2" y="149.2"/><use href="#t" x="281.9" y="232.9"/><use href="#t" x="362.7" y="157.7"/><use href="#t" x="239.7" y="355.8"/><use href="#t" x="353.0" y="247.8"/><use href="#t" x="331.0" y="219.5"/><use href="#t" x="329.8" y="224.6"/><use href="#t" x="254.3" y="294.2"/><use href="#t" x="229.9" y="292.4"/><use href="#t" x="373.7" y="230.1"/><use href="#t" x="323.7" y="284.4"/><use href="#t" x="296.2" y="237.8"/><use href="#t" x="270.1" y="272.9"/><use href="#t" x="273.7" y="165.4"/><use href="#t" x="252.4" y="288.4"/><use href="#t" x="316.2" y="179.6"/><use href="#t" x="253.2" y="277.0"/><use href="#t" x="248.0" y="317.8"/><use href="#t" x="321.3" y="239.9"/><use href="#t" x="197.2" y="351.6"/><use href="#t" x="306.1" y="222.2"/><use href="#t" x="268.8" y="173.0"/><use href="#t" x="213.0" y="301.6"/><use href="#t" x="350.8" y="251.9"/><use href="#t" x="308.3" y="270.3"/><use href="#t" x="319.2" y="255.7"/><use href="#t" x="334.6" y="138.7"/><use href="#t" x="319.2" y="208.8"/><use href="#t" x="336.9" y="193.3"/><use href="#t" x="220.7" y="342.3"/><use href="#t" x="335.8" y="225.2"/><use href="#t" x="347.5" y="200.8"/><use href="#t" x="267.9" y="194.0"/><use href="#t" x="335.2" y="246.3"/><use href="#t" x="390.3" y="212.1"/><use href="#t" x="386.8" y="143.5"/><use href="#t" x="208.1" y="329.4"/><use href="#t" x="292.9" y="229.4"/><use href="#t" x="296.5" y="282.4"/><use href="#t" x="305.7" y="267.6"/><use href="#t" x="239.8" y="287.8"/><use href="#t" x="235.5" y="315.3"/><use href="#t" x="324.4" y="120.2"/><use href="#t" x="294.7" y="136.3"/><use href="#t" x="272.1" y="304.5"/><use href="#t" x="382.1" y="264.4"/><use href="#t" x="248.2" y="337.4"/><use href="#t" x="256.3" y="271.6"/><use href="#t" x="393.2" y="263.5"/><use href="#t" x="254.3" y="307.6"/><use href="#t" x="396.9" y="235.0"/><use href="#t" x="302.8" y="294.6"/><use href="#t" x="203.3" y="325.0"/><use href="#t" x="339.8" y="279.0"/><use href="#t" x="327.2" y="179.9"/><use href="#t" x="198.2" y="337.7"/><use href="#t" x="173.6" y="329.4"/><use href="#t" x="267.6" y="322.3"/><use href="#t" x="273.3" y="249.2"/><use href="#t" x="215.2" y="348.4"/><use href="#t" x="334.3" y="275.3"/><use href="#t" x="287.0" y="304.1"/><use href="#t" x="385.8" y="260.6"/><use href="#t" x="188.7" y="355.1"/><use href="#t" x="325.4" y="241.0"/><use href="#t" x="238.1" y="312.6"/><use href="#t" x="200.8" y="355.9"/><use href="#t" x="341.1" y="145.1"/><use href="#t" x="297.2" y="285.6"/><use href="#t" x="304.7" y="271.8"/><use href="#t" x="318.1" y="258.2"/><use href="#t" x="265.8" y="269.9"/><use href="#t" x="346.9" y="237.6"/><use href="#t" x="207.2" y="355.9"/><use href="#t" x="358.9" y="245.6"/><use href="#t" x="242.5" y="301.5"/><use href="#t" x="318.4" y="262.0"/><use href="#t" x="303.2" y="246.4"/><use href="#t" x="208.6" y="355.8"/><use href="#t" x="267.5" y="321.6"/><use href="#t" x="301.6" y="280.8"/><use href="#t" x="328.5" y="240.4"/><use href="#t" x="320.2" y="218.9"/><use href="#t" x="347.3" y="279.1"/><use href="#t" x="241.8" y="346.8"/><use href="#t" x="245.0" y="301.6"/><use href="#t" x="308.6" y="193.0"/><use href="#t" x="324.5" y="162.1"/><use href="#t" x="368.1" y="248.5"/><use href="#t" x="354.4" y="234.1"/><use href="#t" x="218.6" y="337.0"/><use href="#t" x="363.8" y="208.5"/><use href="#t" x="243.1" y="306.5"/><use href="#t" x="336.5" y="242.5"/><use href="#t" x="336.7" y="220.5"/><use href="#t" x="282.8" y="188.6"/><use href="#t" x="334.5" y="247.4"/><use href="#t" x="197.2" y="335.3"/><use href="#t" x="214.3" y="336.7"/><use href="#t" x="304.9" y="275.9"/><use href="#t" x="380.5" y="188.5"/><use href="#t" x="239.0" y="343.4"/><use href="#t" x="270.5" y="276.3"/><use href="#t" x="274.9" y="299.0"/><use href="#t" x="194.5" y="355.6"/><use href="#t" x="324.8" y="186.5"/><use href="#t" x="302.5" y="163.3"/><use href="#t" x="237.2" y="287.1"/><use href="#t" x="273.5" y="238.6"/><use href="#t" x="225.9" y="298.2"/><use href="#t" x="387.1" y="246.9"/><use href="#t" x="229.4" y="341.6"/><use href="#t" x="237.5" y="308.2"/><use href="#t" x="276.5" y="249.2"/><use href="#t" x="317.2" y="167.5"/><use href="#t" x="368.8" y="207.4"/><use href="#t" x="302.1" y="197.0"/><use href="#t" x="191.9" y="341.6"/><use href="#t" x="325.0" y="215.4"/><use href="#t" x="398.0" y="258.1"/><use href="#t" x="177.9" y="353.2"/><use href="#t" x="292.9" y="200.1"/><use href="#t" x="322.7" y="184.4"/><use href="#t" x="264.9" y="280.5"/><use href="#t" x="239.6" y="331.3"/><use href="#t" x="282.0" y="269.8"/><use href="#t" x="321.0" y="205.0"/><use href="#t" x="369.8" y="219.5"/><use href="#t" x="284.3" y="282.3"/><use href="#t" x="267.8" y="270.5"/><use href="#t" x="335.1" y="225.7"/><use href="#t" x="171.5" y="340.2"/><use href="#t" x="221.1" y="350.9"/><use href="#t" x="300.1" y="261.2"/><use href="#t" x="346.4" y="228.5"/><use href="#t" x="228.3" y="294.6"/><use href="#t" x="325.9" y="215.0"/><use href="#t" x="362.4" y="181.8"/><use href="#t" x="335.0" y="256.2"/><use href="#t" x="410.2" y="232.7"/><use href="#t" x="287.5" y="229.3"/><use href="#t" x="373.5" y="231.0"/><use href="#t" x="253.6" y="300.9"/><use href="#t" x="331.0" y="270.0"/><use href="#t" x="330.7" y="169.4"/><use href="#t" x="280.2" y="277.8"/><use href="#t" x="229.0" y="315.5"/><use href="#t" x="327.4" y="169.9"/><use href="#t" x="315.8" y="234.5"/><use href="#t" x="205.2" y="348.2"/><use href="#t" x="331.6" y="176.6"/><use href="#t" x="364.1" y="260.3"/><use href="#t" x="348.6" y="191.4"/><use href="#t" x="346.2" y="207.4"/><use href="#t" x="289.8" y="285.6"/><use href="#t" x="366.8" y="179.7"/><use href="#t" x="294.0" y="203.0"/><use href="#t" x="324.3" y="263.1"/><use href="#t" x="383.5" y="241.8"/><use href="#t" x="348.9" y="197.0"/><use href="#t" x="366.5" y="269.8"/><use href="#t" x="374.5" y="241.0"/><use href="#t" x="316.4" y="152.1"/><use href="#t" x="306.5" y="228.7"/><use href="#t" x="315.7" y="173.2"/><use href="#t" x="406.0" y="243.0"/><use href="#t" x="295.7" y="231.4"/><use href="#t" x="312.2" y="183.7"/><use href="#t" x="335.1" y="253.4"/><use href="#t" x="279.5" y="294.1"/><use href="#t" x="354.8" y="195.1"/><use href="#t" x="315.2" y="253.9"/><use href="#t" x="317.5" y="182.1"/><use href="#t" x="343.7" y="211.7"/><use href="#t" x="409.1" y="225.7"/><use href="#t" x="170.0" y="346.9"/><use href="#t" x="388.4" y="244.5"/><use href="#t" x="301.7" y="296.9"/><use href="#t" x="325.1" y="285.4"/><use href="#t" x="377.7" y="177.1"/><use href="#t" x="300.4" y="166.5"/><use href="#t" x="332.0" y="179.0"/><use href="#t" x="292.9" y="226.9"/><use href="#t" x="273.5" y="245.8"/><use href="#t" x="188.1" y="317.6"/><use href="#t" x="337.7" y="220.4"/><use href="#t" x="197.1" y="317.8"/><use href="#t" x="287.9" y="309.6"/><use href="#t" x="279.8" y="303.0"/><use href="#t" x="292.3" y="161.9"/><use href="#t" x="276.0" y="240.6"/><use href="#t" x="284.2" y="248.1"/><use href="#t" x="315.8" y="236.4"/><use href="#t" x="363.6" y="277.6"/><use href="#t" x="321.2" y="205.5"/><use href="#t" x="283.9" y="260.7"/><use href="#t" x="325.9" y="271.6"/><use href="#t" x="318.2" y="252.9"/><use href="#t" x="247.9" y="327.7"/><use href="#t" x="269.0" y="318.0"/><use href="#t" x="372.3" y="260.2"/><use href="#t" x="189.7" y="335.6"/><use href="#t" x="308.3" y="278.5"/><use href="#t" x="319.3" y="247.8"/><use href="#t" x="391.1" y="202.4"/><use href="#t" x="233.2" y="356.7"/><use href="#t" x="248.8" y="314.6"/><use href="#t" x="341.1" y="266.0"/><use href="#t" x="354.8" y="233.1"/><use href="#t" x="307.6" y="202.3"/><use href="#t" x="297.6" y="204.0"/><use href="#t" x="312.1" y="223.6"/><use href="#t" x="342.8" y="243.2"/><use href="#t" x="358.0" y="181.6"/><use href="#t" x="277.5" y="282.3"/><use href="#t" x="292.9" y="296.8"/><use href="#t" x="407.2" y="218.5"/><use href="#t" x="293.0" y="297.4"/><use href="#t" x="233.3" y="345.2"/><use href="#t" x="196.2" y="325.9"/><use href="#t" x="384.3" y="242.0"/><use href="#t" x="253.2" y="337.5"/><use href="#t" x="400.8" y="250.8"/><use href="#t" x="385.9" y="250.0"/><use href="#t" x="396.6" y="255.3"/><use href="#t" x="344.7" y="234.6"/><use href="#t" x="262.7" y="299.6"/><use href="#t" x="196.5" y="344.1"/><use href="#t" x="288.1" y="285.6"/><use href="#t" x="316.9" y="201.5"/><use href="#t" x="339.7" y="230.7"/><use href="#t" x="184.2" y="333.5"/><use href="#t" x="265.5" y="257.7"/><use href="#t" x="317.9" y="293.1"/><use href="#t" x="170.9" y="348.1"/><use href="#t" x="350.2" y="185.7"/><use href="#t" x="237.1" y="293.8"/><use href="#t" x="292.1" y="239.9"/><use href="#t" x="351.3" y="210.2"/><use href="#t" x="277.2" y="252.6"/><use href="#t" x="343.4" y="202.8"/><use href="#t" x="324.3" y="195.6"/><use href="#t" x="307.7" y="256.8"/><use href="#t" x="339.7" y="265.1"/><use href="#t" x="266.4" y="215.7"/><use href="#t" x="327.6" y="253.6"/><use href="#t" x="307.0" y="269.6"/><use href="#t" x="361.7" y="258.9"/><use href="#t" x="178.7" y="348.3"/><use href="#t" x="309.1" y="151.1"/><use href="#t" x="363.1" y="201.2"/><use href="#t" x="308.3" y="143.2"/><use href="#t" x="316.0" y="241.7"/><use href="#t" x="250.7" y="310.1"/><use href="#t" x="267.8" y="309.6"/><use href="#t" x="226.0" y="316.4"/><use href="#t" x="274.1" y="307.9"/><use href="#t" x="268.7" y="157.1"/><use href="#t" x="266.8" y="206.6"/><use href="#t" x="351.2" y="217.9"/><use href="#t" x="353.0" y="221.5"/><use href="#t" x="228.2" y="326.3"/><use href="#t" x="292.8" y="299.7"/><use href="#t" x="394.5" y="267.6"/><use href="#t" x="347.4" y="267.9"/><use href="#t" x="326.8" y="214.5"/><use href="#t" x="300.2" y="213.8"/><use href="#t" x="338.5" y="202.4"/><use href="#t" x="279.6" y="286.9"/><use href="#t" x="235.8" y="350.7"/><use href="#t" x="286.5" y="278.7"/><use href="#t" x="287.4" y="231.2"/><use href="#t" x="380.4" y="249.1"/><use href="#t" x="278.4" y="302.9"/><use href="#t" x="212.0" y="312.6"/><use href="#t" x="304.6" y="183.7"/><use href="#t" x="331.8" y="258.9"/><use href="#t" x="351.9" y="265.2"/><use href="#t" x="262.1" y="316.1"/><use href="#t" x="286.8" y="174.4"/><use href="#t" x="335.2" y="219.5"/><use href="#t" x="245.3" y="323.0"/><use href="#t" x="391.3" y="190.5"/><use href="#t" x="292.8" y="251.7"/><use href="#t" x="226.4" y="351.4"/><use href="#t" x="272.4" y="253.9"/><use href="#t" x="339.5" y="235.6"/><use href="#t" x="218.3" y="304.7"/><use href="#t" x="202.5" y="358.2"/><use href="#t" x="239.0" y="314.1"/><use href="#t" x="320.8" y="221.1"/><use href="#t" x="227.7" y="292.1"/><use href="#t" x="380.2" y="139.3"/><use href="#t" x="373.3" y="259.3"/><use href="#t" x="365.8" y="143.1"/><use href="#t" x="289.3" y="304.3"/><use href="#t" x="260.6" y="301.6"/><use href="#t" x="315.8" y="263.6"/><use href="#t" x="175.7" y="357.2"/><use href="#t" x="287.2" y="223.8"/><use href="#t" x="259.9" y="170.3"/><use href="#t" x="285.1" y="258.7"/><use href="#t" x="284.2" y="305.1"/><use href="#t" x="330.0" y="240.3"/><use href="#t" x="364.4" y="226.7"/><use href="#t" x="365.3" y="246.3"/><use href="#t" x="194.2" y="332.6"/><use href="#t" x="241.8" y="307.6"/><use href="#t" x="311.4" y="277.6"/><use href="#t" x="177.0" y="332.1"/><use href="#t" x="297.5" y="199.6"/><use href="#t" x="280.1" y="295.2"/><use href="#t" x="364.7" y="208.3"/><use href="#t" x="320.3" y="199.9"/><use href="#t" x="318.7" y="132.8"/><use href="#t" x="249.5" y="297.2"/><use href="#t" x="257.0" y="278.0"/><use href="#t" x="236.3" y="293.0"/><use href="#t" x="304.5" y="174.5"/><use href="#t" x="292.8" y="206.5"/><use href="#t" x="238.0" y="353.1"/><use href="#t" x="220.9" y="306.7"/><use href="#t" x="231.0" y="287.2"/><use href="#t" x="361.7" y="185.6"/><use href="#t" x="304.3" y="259.2"/><use href="#t" x="392.9" y="169.3"/><use href="#t" x="238.3" y="318.7"/><use href="#t" x="208.9" y="303.8"/><use href="#t" x="186.6" y="354.6"/><use href="#t" x="242.1" y="323.3"/><use href="#t" x="276.0" y="304.3"/><use href="#t" x="215.7" y="336.5"/><use href="#t" x="359.0" y="256.7"/><use href="#t" x="332.7" y="193.4"/><use href="#t" x="179.3" y="343.0"/><use href="#t" x="287.7" y="288.9"/><use href="#t" x="331.1" y="264.2"/><use href="#t" x="189.7" y="357.7"/><use href="#t" x="266.8" y="252.3"/><use href="#t" x="287.4" y="285.9"/><use href="#t" x="299.4" y="282.8"/><use href="#t" x="302.6" y="243.2"/><use href="#t" x="326.0" y="143.6"/><use href="#t" x="244.4" y="285.4"/><use href="#t" x="360.6" y="263.1"/><use href="#t" x="238.7" y="328.4"/><use href="#t" x="320.6" y="142.1"/><use href="#t" x="378.3" y="245.5"/><use href="#t" x="304.9" y="231.7"/><use href="#t" x="351.4" y="237.0"/><use href="#t" x="319.4" y="252.1"/><use href="#t" x="388.9" y="268.0"/><use href="#t" x="339.8" y="275.6"/><use href="#t" x="179.9" y="342.9"/><use href="#t" x="238.4" y="324.6"/><use href="#t" x="351.3" y="158.0"/><use href="#t" x="172.6" y="340.0"/><use href="#t" x="342.3" y="258.8"/><use href="#t" x="187.3" y="340.0"/><use href="#t" x="284.1" y="142.2"/><use href="#t" x="179.8" y="345.8"/><use href="#t" x="362.8" y="260.3"/><use href="#t" x="242.9" y="278.1"/><use href="#t" x="290.8" y="251.5"/><use href="#t" x="290.5" y="221.8"/><use href="#t" x="248.0" y="299.2"/><use href="#t" x="226.6" y="334.6"/><use href="#t" x="231.5" y="314.8"/><use href="#t" x="258.8" y="268.1"/><use href="#t" x="237.7" y="303.1"/><use href="#t" x="188.5" y="332.4"/><use href="#t" x="194.4" y="320.7"/><use href="#t" x="365.7" y="251.3"/><use href="#t" x="267.4" y="290.1"/><use href="#t" x="309.9" y="260.8"/><use href="#t" x="361.6" y="219.4"/><use href="#t" x="245.6" y="308.2"/><use href="#t" x="258.7" y="288.5"/><use href="#t" x="303.5" y="173.5"/><use href="#t" x="280.8" y="288.6"/><use href="#t" x="282.8" y="290.7"/><use href="#t" x="357.1" y="248.3"/><use href="#t" x="370.0" y="232.3"/><use href="#t" x="249.1" y="308.9"/><use href="#t" x="271.2" y="237.7"/><use href="#t" x="303.3" y="241.6"/><use href="#t" x="366.3" y="241.9"/><use href="#t" x="309.6" y="146.1"/><use href="#t" x="393.2" y="219.5"/><use href="#t" x="302.9" y="275.2"/><use href="#t" x="287.9" y="287.3"/><use href="#t" x="353.9" y="231.9"/><use href="#t" x="201.6" y="337.0"/><use href="#t" x="245.7" y="310.6"/><use href="#t" x="252.6" y="304.7"/><use href="#t" x="341.0" y="222.4"/><use href="#t" x="371.6" y="266.7"/><use href="#t" x="307.5" y="212.9"/><use href="#t" x="346.3" y="235.8"/><use href="#t" x="269.0" y="305.6"/><use href="#t" x="291.2" y="307.6"/><use href="#t" x="402.7" y="246.0"/><use href="#t" x="356.9" y="235.9"/><use href="#t" x="400.8" y="195.6"/><use href="#t" x="181.4" y="335.0"/><use href="#t" x="261.4" y="170.5"/><use href="#t" x="270.4" y="244.5"/><use href="#t" x="365.6" y="132.7"/><use href="#t" x="330.3" y="216.2"/><use href="#t" x="338.2" y="193.5"/><use href="#t" x="319.4" y="273.4"/><use href="#t" x="323.1" y="215.6"/><use href="#t" x="269.5" y="257.1"/><use href="#t" x="378.0" y="215.2"/><use href="#t" x="313.5" y="273.3"/><use href="#t" x="253.9" y="285.9"/><use href="#t" x="297.4" y="219.5"/><use href="#t" x="358.2" y="168.7"/><use href="#t" x="304.7" y="198.9"/><use href="#t" x="287.8" y="204.7"/><use href="#t" x="225.5" y="343.2"/><use href="#t" x="316.4" y="270.4"/><use href="#t" x="276.5" y="292.9"/><use href="#t" x="188.2" y="346.9"/><use href="#t" x="326.3" y="228.2"/><use href="#t" x="226.1" y="343.7"/><use href="#t" x="239.3" y="321.6"/><use href="#t" x="339.2" y="268.7"/><use href="#t" x="262.7" y="263.6"/><use href="#t" x="171.5" y="340.8"/><use href="#t" x="250.9" y="271.8"/><use href="#t" x="379.3" y="199.2"/><use href="#t" x="308.6" y="261.9"/><use href="#t" x="302.7" y="225.8"/><use href="#t" x="364.0" y="235.6"/><use href="#t" x="382.8" y="270.9"/><use href="#t" x="299.1" y="236.6"/><use href="#t" x="315.1" y="193.7"/><use href="#t" x="299.8" y="292.7"/><use href="#t" x="354.9" y="264.9"/><use href="#t" x="276.5" y="163.0"/><use href="#t" x="354.6" y="132.8"/><use href="#t" x="277.5" y="300.0"/><use href="#t" x="328.7" y="233.5"/><use href="#t" x="271.3" y="245.0"/><use href="#t" x="341.9" y="205.9"/><use href="#t" x="320.9" y="147.1"/><use href="#t" x="293.3" y="180.7"/><use href="#t" x="214.9" y="307.6"/><use href="#t" x="291.6" y="205.7"/><use href="#t" x="314.1" y="207.6"/><use href="#t" x="278.2" y="234.6"/><use href="#t" x="232.9" y="324.0"/><use href="#t" x="355.1" y="152.5"/><use href="#t" x="206.4" y="342.2"/><use href="#t" x="224.2" y="347.1"/><use href="#t" x="264.9" y="295.8"/><use href="#t" x="258.5" y="293.0"/><use href="#t" x="387.0" y="234.9"/><use href="#t" x="231.5" y="342.3"/><use href="#t" x="303.2" y="154.9"/><use href="#t" x="327.2" y="153.6"/><use href="#t" x="336.6" y="235.8"/><use href="#t" x="359.9" y="201.4"/><use href="#t" x="388.6" y="236.8"/><use href="#t" x="383.0" y="202.1"/><use href="#t" x="189.7" y="326.4"/><use href="#t" x="347.1" y="282.3"/><use href="#t" x="374.7" y="189.6"/><use href="#t" x="263.6" y="255.7"/><use href="#t" x="296.1" y="245.6"/><use href="#t" x="346.2" y="129.8"/><use href="#t" x="307.6" y="219.3"/><use href="#t" x="380.3" y="165.9"/><use href="#t" x="314.5" y="288.9"/><use href="#t" x="253.1" y="277.1"/><use href="#t" x="187.6" y="353.1"/><use href="#t" x="349.4" y="280.5"/><use href="#t" x="295.7" y="268.1"/><use href="#t" x="218.9" y="323.3"/><use href="#t" x="350.7" y="268.7"/><use href="#t" x="316.8" y="257.3"/><use href="#t" x="298.6" y="262.4"/><use href="#t" x="373.7" y="203.0"/><use href="#t" x="282.6" y="306.3"/><use href="#t" x="382.9" y="233.9"/><use href="#t" x="256.5" y="316.7"/><use href="#t" x="282.1" y="255.0"/><use href="#t" x="348.7" y="147.2"/><use href="#t" x="321.0" y="148.1"/><use href="#t" x="272.1" y="293.9"/><use href="#t" x="332.9" y="153.9"/><use href="#t" x="326.2" y="279.5"/><use href="#t" x="295.0" y="201.4"/><use href="#t" x="208.2" y="357.6"/><use href="#t" x="299.2" y="137.8"/><use href="#t" x="271.1" y="238.0"/><use href="#t" x="370.8" y="256.5"/><use href="#t" x="217.5" y="315.3"/><use href="#t" x="357.8" y="237.8"/><use href="#t" x="288.9" y="284.9"/><use href="#t" x="302.0" y="263.5"/><use href="#t" x="396.8" y="230.4"/><use href="#t" x="344.9" y="235.4"/><use href="#t" x="351.3" y="248.7"/><use href="#t" x="230.6" y="327.3"/><use href="#t" x="344.5" y="147.0"/><use href="#t" x="290.8" y="231.1"/><use href="#t" x="202.2" y="322.8"/><use href="#t" x="190.0" y="339.6"/><use href="#t" x="334.1" y="172.5"/><use href="#t" x="271.9" y="312.7"/><use href="#t" x="194.0" y="344.6"/><use href="#t" x="369.9" y="245.3"/><use href="#t" x="347.2" y="279.9"/><use href="#t" x="238.7" y="290.1"/><use href="#t" x="199.2" y="354.5"/><use href="#t" x="378.2" y="244.6"/><use href="#t" x="411.8" y="215.3"/><use href="#t" x="272.2" y="271.8"/><use href="#t" x="179.0" y="331.0"/><use href="#t" x="230.3" y="336.1"/><use href="#t" x="287.5" y="238.4"/><use href="#t" x="323.6" y="163.3"/><use href="#t" x="270.7" y="310.3"/><use href="#t" x="305.4" y="222.7"/><use href="#t" x="361.0" y="262.6"/><use href="#t" x="402.6" y="222.9"/><use href="#t" x="168.8" y="357.8"/><use href="#t" x="312.1" y="190.1"/><use href="#t" x="338.0" y="283.0"/><use href="#t" x="341.8" y="240.2"/><use href="#t" x="388.2" y="227.9"/><use href="#t" x="229.5" y="295.3"/><use href="#t" x="225.4" y="314.6"/><use href="#t" x="277.0" y="248.3"/><use href="#t" x="284.1" y="237.6"/><use href="#t" x="353.3" y="141.4"/><use href="#t" x="186.0" y="330.4"/><use href="#t" x="230.6" y="342.7"/><use href="#t" x="232.1" y="324.8"/><use href="#t" x="280.5" y="211.6"/><use href="#t" x="225.5" y="325.0"/><use href="#t" x="234.7" y="354.9"/><use href="#t" x="266.9" y="270.5"/><use href="#t" x="241.5" y="285.0"/><use href="#t" x="370.5" y="253.3"/><use href="#t" x="286.1" y="248.8"/><use href="#t" x="277.5" y="245.7"/><use href="#t" x="293.1" y="146.7"/><use href="#t" x="276.7" y="265.8"/><use href="#t" x="219.4" y="344.3"/><use href="#t" x="357.3" y="240.3"/><use href="#t" x="376.1" y="217.7"/><use href="#t" x="326.8" y="250.3"/><use href="#t" x="313.6" y="289.0"/><use href="#t" x="297.1" y="166.5"/><use href="#t" x="342.7" y="190.6"/><use href="#t" x="387.2" y="132.6"/><use href="#t" x="305.0" y="213.3"/><use href="#t" x="252.0" y="341.2"/><use href="#t" x="283.5" y="284.9"/><use href="#t" x="369.7" y="272.5"/><use href="#t" x="308.3" y="137.4"/><use href="#t" x="207.9" y="325.6"/><use href="#t" x="181.9" y="329.0"/><use href="#t" x="321.0" y="274.7"/><use href="#t" x="284.8" y="247.4"/><use href="#t" x="185.1" y="347.0"/><use href="#t" x="352.4" y="250.3"/><use href="#t" x="276.5" y="227.8"/><use href="#t" x="276.4" y="231.2"/><use href="#t" x="354.5" y="185.4"/><use href="#t" x="350.0" y="267.7"/><use href="#t" x="306.4" y="251.6"/><use href="#t" x="212.9" y="355.5"/><use href="#t" x="330.5" y="124.9"/><use href="#t" x="291.4" y="281.2"/><use href="#t" x="234.7" y="298.1"/><use href="#t" x="359.6" y="150.8"/><use href="#t" x="238.1" y="281.0"/><use href="#t" x="188.4" y="354.2"/><use href="#t" x="249.7" y="322.4"/><use href="#t" x="186.0" y="343.4"/><use href="#t" x="199.3" y="338.4"/><use href="#t" x="306.3" y="287.5"/><use href="#t" x="294.1" y="275.8"/><use href="#t" x="341.6" y="194.4"/><use href="#t" x="396.9" y="261.5"/><use href="#t" x="301.4" y="280.9"/><use href="#t" x="282.8" y="198.4"/><use href="#t" x="207.2" y="352.5"/><use href="#t" x="190.4" y="355.9"/><use href="#t" x="274.3" y="257.2"/><use href="#t" x="199.2" y="331.3"/><use href="#t" x="318.0" y="170.4"/><use href="#t" x="326.8" y="182.0"/><use href="#t" x="312.9" y="290.5"/><use href="#t" x="289.5" y="238.9"/><use href="#t" x="220.0" y="310.2"/><use href="#t" x="311.2" y="231.3"/><use href="#t" x="183.6" y="353.8"/><use href="#t" x="331.2" y="265.8"/><use href="#t" x="356.2" y="125.0"/><use href="#t" x="321.0" y="239.5"/><use href="#t" x="327.2" y="143.2"/><use href="#t" x="320.0" y="202.2"/><use href="#t" x="269.9" y="249.9"/><use href="#t" x="263.3" y="289.4"/><use href="#t" x="316.0" y="246.5"/><use href="#t" x="337.8" y="279.5"/><use href="#t" x="272.0" y="279.5"/><use href="#t" x="240.1" y="332.6"/><use href="#t" x="370.0" y="228.1"/><use href="#t" x="324.3" y="191.5"/><use href="#t" x="239.4" y="279.0"/><use href="#t" x="238.3" y="308.1"/><use href="#t" x="339.0" y="224.7"/><use href="#t" x="313.6" y="231.6"/><use href="#t" x="350.4" y="221.0"/><use href="#t" x="232.2" y="337.3"/><use href="#t" x="252.9" y="315.4"/><use href="#t" x="202.2" y="357.1"/><use href="#t" x="244.5" y="274.6"/><use href="#t" x="402.1" y="236.6"/><use href="#t" x="343.6" y="244.7"/><use href="#t" x="337.9" y="286.7"/><use href="#t" x="290.6" y="234.1"/><use href="#t" x="314.6" y="266.4"/><use href="#t" x="294.8" y="145.2"/><use href="#t" x="191.5" y="341.4"/><use href="#t" x="210.1" y="341.4"/><use href="#t" x="298.6" y="127.5"/><use href="#t" x="364.5" y="249.2"/><use href="#t" x="361.6" y="240.4"/><use href="#t" x="305.8" y="256.4"/><use href="#t" x="294.2" y="123.5"/><use href="#t" x="285.2" y="234.1"/><use href="#t" x="191.8" y="324.6"/><use href="#t" x="261.4" y="263.1"/><use href="#t" x="286.5" y="207.5"/><use href="#t" x="240.8" y="328.1"/><use href="#t" x="373.8" y="250.3"/><use href="#t" x="295.6" y="198.2"/><use href="#t" x="269.5" y="264.1"/><use href="#t" x="235.1" y="349.1"/><use href="#t" x="317.6" y="288.9"/><use href="#t" x="402.6" y="245.7"/><use href="#t" x="401.9" y="189.2"/><use href="#t" x="340.1" y="261.0"/><use href="#t" x="323.2" y="145.3"/><use href="#t" x="235.9" y="323.6"/><use href="#t" x="342.8" y="261.7"/><use href="#t" x="258.7" y="186.6"/><use href="#t" x="180.9" y="333.5"/><use href="#t" x="394.3" y="262.5"/><use href="#t" x="216.2" y="320.4"/><use href="#t" x="252.9" y="297.6"/><use href="#t" x="274.9" y="211.8"/><use href="#t" x="218.2" y="343.8"/><use href="#t" x="375.0" y="266.9"/><use href="#t" x="232.9" y="342.1"/><use href="#t" x="296.0" y="263.7"/><use href="#t" x="379.6" y="252.2"/><use href="#t" x="372.3" y="265.2"/><use href="#t" x="330.0" y="221.3"/><use href="#t" x="283.1" y="271.0"/><use href="#t" x="250.9" y="343.7"/><use href="#t" x="358.9" y="228.9"/><use href="#t" x="337.9" y="194.8"/><use href="#t" x="280.9" y="281.8"/><use href="#t" x="340.6" y="242.6"/><use href="#t" x="181.5" y="356.3"/><use href="#t" x="323.2" y="225.5"/><use href="#t" x="344.7" y="283.0"/><use href="#t" x="310.7" y="225.0"/><use href="#t" x="270.3" y="249.9"/><use href="#t" x="376.0" y="270.0"/><use href="#t" x="276.9" y="278.9"/><use href="#t" x="319.5" y="176.3"/><use href="#t" x="382.0" y="221.5"/><use href="#t" x="231.9" y="295.5"/><use href="#t" x="222.1" y="309.2"/><use href="#t" x="289.7" y="211.6"/><use href="#t" x="343.9" y="250.8"/><use href="#t" x="302.8" y="262.3"/><use href="#t" x="346.8" y="194.6"/><use href="#t" x="198.9" y="338.2"/><use href="#t" x="387.5" y="166.7"/><use href="#t" x="317.5" y="267.5"/><use href="#t" x="368.8" y="223.3"/><use href="#t" x="272.3" y="265.9"/><use href="#t" x="331.4" y="236.0"/><use href="#t" x="185.8" y="328.8"/><use href="#t" x="233.2" y="353.6"/><use href="#t" x="402.6" y="226.2"/><use href="#t" x="394.2" y="256.7"/><use href="#t" x="265.0" y="189.5"/><use href="#t" x="289.8" y="185.7"/><use href="#t" x="173.4" y="353.2"/><use href="#t" x="319.5" y="286.2"/><use href="#t" x="234.4" y="345.3"/><use href="#t" x="305.0" y="193.3"/><use href="#t" x="293.0" y="146.3"/><use href="#t" x="319.0" y="176.0"/><use href="#t" x="305.0" y="207.1"/><use href="#t" x="357.0" y="218.4"/><use href="#t" x="341.8" y="278.9"/><use href="#t" x="345.1" y="250.5"/><use href="#t" x="287.7" y="207.5"/><use href="#t" x="174.0" y="358.3"/><use href="#t" x="397.2" y="221.7"/><use href="#t" x="270.6" y="321.6"/><use href="#t" x="298.4" y="300.7"/><use href="#t" x="357.5" y="188.2"/><use href="#t" x="247.2" y="335.0"/><use href="#t" x="221.4" y="325.8"/><use href="#t" x="305.1" y="151.3"/><use href="#t" x="297.8" y="197.2"/><use href="#t" x="284.6" y="247.6"/><use href="#t" x="237.2" y="351.0"/><use href="#t" x="373.6" y="156.2"/><use href="#t" x="408.0" y="211.6"/><use href="#t" x="290.0" y="300.3"/><use href="#t" x="385.2" y="181.8"/><use href="#t" x="273.7" y="290.4"/><use href="#t" x="393.9" y="258.2"/><use href="#t" x="207.5" y="353.5"/><use href="#t" x="338.1" y="180.7"/><use href="#t" x="307.3" y="183.9"/><use href="#t" x="304.2" y="299.3"/><use href="#t" x="285.8" y="248.7"/><use href="#t" x="383.6" y="255.8"/><use href="#t" x="243.5" y="353.0"/><use href="#t" x="192.7" y="346.6"/><use href="#t" x="321.4" y="281.5"/><use href="#t" x="318.3" y="153.3"/><use href="#t" x="323.7" y="273.8"/><use href="#t" x="315.0" y="194.7"/><use href="#t" x="383.9" y="261.5"/><use href="#t" x="313.1" y="194.4"/><use href="#t" x="234.4" y="328.3"/><use href="#t" x="278.9" y="237.9"/><use href="#t" x="227.3" y="305.1"/><use href="#t" x="222.3" y="322.8"/><use href="#t" x="353.5" y="201.9"/><use href="#t" x="233.1" y="302.2"/><use href="#t" x="307.2" y="242.7"/><use href="#t" x="318.9" y="182.5"/><use href="#t" x="236.7" y="324.1"/><use href="#t" x="288.8" y="279.2"/><use href="#t" x="289.6" y="272.8"/><use href="#t" x="323.4" y="242.1"/><use href="#t" x="276.7" y="267.0"/><use href="#t" x="302.3" y="265.7"/><use href="#t" x="356.0" y="257.1"/><use href="#t" x="331.6" y="240.2"/><use href="#t" x="322.0" y="248.2"/><use href="#t" x="295.4" y="300.5"/><use href="#t" x="353.9" y="258.1"/><use href="#t" x="336.9" y="216.2"/><use href="#t" x="337.7" y="204.1"/><use href="#t" x="232.2" y="343.1"/><use href="#t" x="347.9" y="167.7"/><use href="#t" x="257.5" y="186.6"/><use href="#t" x="312.9" y="292.6"/><use href="#t" x="224.0" y="342.5"/><use href="#t" x="360.5" y="255.4"/><use href="#t" x="285.6" y="251.7"/><use href="#t" x="344.6" y="276.1"/><use href="#t" x="300.5" y="201.7"/><use href="#t" x="283.8" y="269.7"/><use href="#t" x="330.8" y="166.4"/><use href="#t" x="346.4" y="245.0"/><use href="#t" x="352.2" y="251.2"/><use href="#t" x="374.7" y="202.7"/><use href="#t" x="252.3" y="307.3"/><use href="#t" x="265.8" y="216.6"/><use href="#t" x="313.8" y="256.7"/><use href="#t" x="317.5" y="270.3"/><use href="#t" x="281.9" y="265.6"/><use href="#t" x="248.2" y="307.0"/><use href="#t" x="366.3" y="215.0"/><use href="#t" x="257.9" y="313.1"/><use href="#t" x="317.5" y="73.2"/><use href="#t" x="329.7" y="76.9"/><use href="#t" x="338.2" y="77.9"/><use href="#t" x="285.5" y="80.7"/><use href="#t" x="317.5" y="82.6"/><use href="#t" x="328.8" y="81.6"/><use href="#t" x="341.0" y="81.6"/><use href="#t" x="352.2" y="76.9"/><use href="#t" x="289.3" y="87.3"/><use href="#t" x="281.8" y="90.0"/><use href="#t" x="315.6" y="91.0"/><use href="#t" x="341.9" y="90.0"/><use href="#t" x="306.2" y="96.7"/><use href="#t" x="319.4" y="99.5"/><use href="#t" x="345.7" y="95.7"/><use href="#t" x="289.3" y="96.7"/><use href="#t" x="283.6" y="102.3"/><use href="#t" x="294.9" y="101.4"/><use href="#t" x="303.4" y="104.2"/><use href="#t" x="321.2" y="104.2"/><use href="#t" x="336.3" y="103.2"/><use href="#t" x="351.3" y="105.1"/><use href="#t" x="289.3" y="109.8"/><use href="#t" x="306.2" y="110.8"/><use href="#t" x="328.8" y="110.8"/><use href="#t" x="345.7" y="108.9"/><use href="#t" x="282.7" y="116.4"/><use href="#t" x="296.8" y="116.4"/><use href="#t" x="313.7" y="116.4"/><use href="#t" x="334.4" y="114.5"/><use href="#t" x="353.2" y="114.5"/><use href="#t" x="356.4" y="111.6"/><use href="#t" x="366.3" y="119.0"/><use href="#t" x="373.7" y="126.4"/><use href="#t" x="358.9" y="126.4"/><use href="#t" x="378.6" y="138.7"/><use href="#t" x="368.7" y="136.3"/><use href="#t" x="356.4" y="138.7"/><use href="#t" x="349.0" y="131.4"/><use href="#t" x="300.0" y="122.0"/><use href="#t" x="320.0" y="124.0"/><use href="#t" x="335.0" y="128.0"/><polygon points="322.0,302.0 311.6,303.0 300.0,309.0 288.0,316.0 274.0,326.0 263.0,337.0 245.0,362.0 316.0,362.0 330.0,348.0 438.0,322.0 430.0,310.0 400.0,322.0 346.0,328.0 322.0,320.0" fill="#b750a0" /><polyline points="360,330 420,319 472,314 497,307 534,299" fill="none" stroke="#b750a0" stroke-width="5.5" stroke-linecap="round"/><polyline points="372,352 446,344 472,340 535,323" fill="none" stroke="#b750a0" stroke-width="5" stroke-linecap="round"/><use href="#s" x="469.3" y="104.3"/><use href="#s" x="457.9" y="108.9"/><use href="#s" x="510.2" y="107.2"/><use href="#s" x="520.8" y="107.5"/><use href="#s" x="414.6" y="118.2"/><use href="#s" x="419.4" y="117.3"/><use href="#s" x="428.6" y="120.6"/><use href="#s" x="444.9" y="119.0"/><use href="#s" x="458.4" y="115.4"/><use href="#s" x="469.7" y="115.2"/><use href="#s" x="487.2" y="117.6"/><use href="#s" x="492.7" y="117.7"/><use href="#s" x="500.9" y="115.9"/><use href="#s" x="507.5" y="119.1"/><use href="#s" x="519.8" y="118.1"/><use href="#s" x="424.0" y="126.5"/><use href="#s" x="426.3" y="127.3"/><use href="#s" x="464.9" y="124.7"/><use href="#s" x="471.9" y="127.3"/><use href="#s" x="479.8" y="126.3"/><use href="#s" x="492.8" y="123.0"/><use href="#s" x="501.1" y="122.9"/><use href="#s" x="508.0" y="128.0"/><use href="#s" x="511.9" y="124.8"/><use href="#s" x="527.6" y="122.6"/><use href="#s" x="410.6" y="134.3"/><use href="#s" x="428.4" y="130.6"/><use href="#s" x="475.4" y="134.9"/><use href="#s" x="483.0" y="131.4"/><use href="#s" x="491.8" y="129.1"/><use href="#s" x="507.7" y="129.9"/><use href="#s" x="446.8" y="138.0"/><use href="#s" x="454.0" y="141.7"/><use href="#s" x="463.2" y="136.7"/><use href="#s" x="473.0" y="141.7"/><use href="#s" x="479.1" y="141.2"/><use href="#s" x="483.9" y="138.0"/><use href="#s" x="501.4" y="136.3"/><use href="#s" x="518.4" y="140.8"/><use href="#s" x="523.5" y="138.3"/><use href="#s" x="400.8" y="142.7"/><use href="#s" x="415.8" y="146.3"/><use href="#s" x="430.1" y="148.6"/><use href="#s" x="451.5" y="143.2"/><use href="#s" x="460.2" y="144.8"/><use href="#s" x="473.8" y="148.5"/><use href="#s" x="480.2" y="144.4"/><use href="#s" x="494.7" y="145.1"/><use href="#s" x="498.2" y="142.0"/><use href="#s" x="505.4" y="146.2"/><use href="#s" x="524.9" y="142.1"/><use href="#s" x="439.2" y="153.1"/><use href="#s" x="448.6" y="155.9"/><use href="#s" x="457.9" y="154.1"/><use href="#s" x="464.3" y="155.2"/><use href="#s" x="481.1" y="153.7"/><use href="#s" x="486.8" y="154.5"/><use href="#s" x="514.4" y="154.4"/><use href="#s" x="530.0" y="153.0"/><use href="#s" x="419.2" y="156.7"/><use href="#s" x="455.9" y="158.6"/><use href="#s" x="502.7" y="156.3"/><use href="#s" x="519.3" y="160.1"/><use href="#s" x="525.0" y="162.2"/><use href="#s" x="405.6" y="165.7"/><use href="#s" x="438.6" y="164.2"/><use href="#s" x="455.7" y="164.5"/><use href="#s" x="465.6" y="168.6"/><use href="#s" x="476.1" y="169.5"/><use href="#s" x="496.2" y="166.4"/><use href="#s" x="515.2" y="167.0"/><use href="#s" x="532.0" y="168.9"/><use href="#s" x="413.7" y="175.0"/><use href="#s" x="421.2" y="173.9"/><use href="#s" x="427.8" y="175.0"/><use href="#s" x="445.2" y="170.6"/><use href="#s" x="456.9" y="171.6"/><use href="#s" x="470.7" y="176.7"/><use href="#s" x="485.6" y="175.6"/><use href="#s" x="496.5" y="175.5"/><use href="#s" x="518.2" y="173.3"/><use href="#s" x="439.4" y="181.9"/><use href="#s" x="450.7" y="177.6"/><use href="#s" x="472.8" y="181.9"/><use href="#s" x="477.5" y="179.9"/><use href="#s" x="482.7" y="178.6"/><use href="#s" x="498.1" y="180.5"/><use href="#s" x="506.9" y="182.6"/><use href="#s" x="517.3" y="183.5"/><use href="#s" x="526.5" y="178.5"/><use href="#s" x="422.3" y="186.3"/><use href="#s" x="430.9" y="188.5"/><use href="#s" x="441.7" y="187.3"/><use href="#s" x="457.1" y="189.5"/><use href="#s" x="461.7" y="189.3"/><use href="#s" x="473.7" y="187.0"/><use href="#s" x="484.2" y="187.3"/><use href="#s" x="502.7" y="185.8"/><use href="#s" x="517.2" y="186.5"/><use href="#s" x="527.3" y="185.6"/><use href="#s" x="420.2" y="196.3"/><use href="#s" x="443.8" y="191.3"/><use href="#s" x="473.2" y="193.4"/><use href="#s" x="474.9" y="194.6"/><use href="#s" x="484.8" y="192.4"/><use href="#s" x="496.7" y="195.7"/><use href="#s" x="505.8" y="194.2"/><use href="#s" x="417.5" y="201.5"/><use href="#s" x="422.5" y="203.2"/><use href="#s" x="448.9" y="200.9"/><use href="#s" x="455.2" y="200.6"/><use href="#s" x="490.7" y="199.4"/><use href="#s" x="521.2" y="203.6"/><use href="#s" x="420.5" y="205.3"/><use href="#s" x="433.7" y="207.0"/><use href="#s" x="452.7" y="209.1"/><use href="#s" x="454.7" y="212.0"/><use href="#s" x="464.1" y="205.7"/><use href="#s" x="474.2" y="206.0"/><use href="#s" x="481.7" y="207.1"/><use href="#s" x="502.0" y="209.3"/><use href="#s" x="520.6" y="206.8"/><use href="#s" x="524.7" y="208.9"/><use href="#s" x="446.7" y="218.0"/><use href="#s" x="459.2" y="213.2"/><use href="#s" x="464.9" y="213.1"/><use href="#s" x="470.4" y="212.1"/><use href="#s" x="475.8" y="216.4"/><use href="#s" x="495.0" y="213.6"/><use href="#s" x="497.4" y="212.8"/><use href="#s" x="502.4" y="213.8"/><use href="#s" x="520.2" y="215.3"/><use href="#s" x="426.4" y="224.8"/><use href="#s" x="450.4" y="225.5"/><use href="#s" x="455.2" y="223.0"/><use href="#s" x="465.2" y="220.4"/><use href="#s" x="468.5" y="219.2"/><use href="#s" x="477.8" y="225.7"/><use href="#s" x="487.5" y="219.6"/><use href="#s" x="494.6" y="221.3"/><use href="#s" x="495.7" y="223.7"/><use href="#s" x="418.2" y="229.5"/><use href="#s" x="430.5" y="231.6"/><use href="#s" x="438.9" y="228.4"/><use href="#s" x="441.1" y="231.8"/><use href="#s" x="452.7" y="227.7"/><use href="#s" x="465.0" y="232.1"/><use href="#s" x="473.4" y="230.3"/><use href="#s" x="479.6" y="228.5"/><use href="#s" x="482.8" y="226.9"/><use href="#s" x="491.9" y="230.7"/><use href="#s" x="501.9" y="229.5"/><use href="#s" x="509.0" y="227.8"/><use href="#s" x="521.7" y="228.9"/><use href="#s" x="524.4" y="229.6"/><use href="#s" x="418.0" y="234.3"/><use href="#s" x="423.8" y="236.6"/><use href="#s" x="427.4" y="239.8"/><use href="#s" x="438.5" y="239.5"/><use href="#s" x="450.6" y="233.1"/><use href="#s" x="458.0" y="238.8"/><use href="#s" x="475.9" y="239.7"/><use href="#s" x="493.2" y="236.5"/><use href="#s" x="507.3" y="239.9"/><use href="#s" x="515.0" y="237.6"/><use href="#s" x="524.6" y="238.0"/><use href="#s" x="421.5" y="242.2"/><use href="#s" x="437.6" y="244.3"/><use href="#s" x="463.3" y="242.2"/><use href="#s" x="502.1" y="244.9"/><use href="#s" x="414.3" y="248.7"/><use href="#s" x="438.2" y="252.1"/><use href="#s" x="442.3" y="251.2"/><use href="#s" x="449.4" y="253.2"/><use href="#s" x="460.4" y="250.8"/><use href="#s" x="471.9" y="248.9"/><use href="#s" x="480.7" y="250.0"/><use href="#s" x="484.4" y="249.2"/><use href="#s" x="490.1" y="252.6"/><use href="#s" x="510.3" y="247.4"/><use href="#s" x="522.2" y="252.1"/><use href="#s" x="411.5" y="258.0"/><use href="#s" x="436.5" y="258.1"/><use href="#s" x="477.7" y="254.2"/><use href="#s" x="495.2" y="254.3"/><use href="#s" x="508.1" y="259.3"/><use href="#s" x="514.4" y="257.6"/><use href="#s" x="509.3" y="258.6"/><use href="#s" x="518.2" y="258.1"/><use href="#s" x="528.4" y="255.1"/><use href="#s" x="524.1" y="259.9"/><use href="#s" x="399.9" y="267.8"/><use href="#s" x="406.0" y="262.1"/><use href="#s" x="411.1" y="266.7"/><use href="#s" x="420.5" y="262.7"/><use href="#s" x="429.3" y="266.0"/><use href="#s" x="438.1" y="265.5"/><use href="#s" x="441.6" y="266.4"/><use href="#s" x="452.8" y="266.5"/><use href="#s" x="462.9" y="261.8"/><use href="#s" x="491.6" y="265.6"/><use href="#s" x="500.6" y="264.0"/><use href="#s" x="506.8" y="262.4"/><use href="#s" x="509.8" y="265.2"/><use href="#s" x="517.6" y="261.0"/><use href="#s" x="525.2" y="261.7"/><use href="#s" x="378.1" y="274.2"/><use href="#s" x="389.7" y="274.4"/><use href="#s" x="389.6" y="270.6"/><use href="#s" x="392.9" y="274.5"/><use href="#s" x="393.5" y="269.6"/><use href="#s" x="412.2" y="273.3"/><use href="#s" x="450.1" y="271.9"/><use href="#s" x="471.3" y="268.5"/><use href="#s" x="488.8" y="271.3"/><use href="#s" x="497.8" y="274.3"/><use href="#s" x="498.0" y="270.3"/><use href="#s" x="507.3" y="274.4"/><use href="#s" x="515.2" y="272.7"/><use href="#s" x="520.9" y="269.2"/><use href="#s" x="527.4" y="268.4"/><use href="#s" x="357.0" y="280.1"/><use href="#s" x="357.6" y="279.3"/><use href="#s" x="363.2" y="281.3"/><use href="#s" x="368.3" y="275.0"/><use href="#s" x="373.4" y="275.0"/><use href="#s" x="379.7" y="281.3"/><use href="#s" x="394.9" y="278.4"/><use href="#s" x="410.4" y="275.7"/><use href="#s" x="417.6" y="281.6"/><use href="#s" x="423.7" y="280.4"/><use href="#s" x="438.4" y="276.1"/><use href="#s" x="451.8" y="279.7"/><use href="#s" x="472.8" y="277.7"/><use href="#s" x="472.5" y="278.7"/><use href="#s" x="480.2" y="276.8"/><use href="#s" x="475.3" y="281.3"/><use href="#s" x="486.0" y="275.9"/><use href="#s" x="484.5" y="277.8"/><use href="#s" x="491.9" y="278.6"/><use href="#s" x="497.7" y="279.6"/><use href="#s" x="506.9" y="278.2"/><use href="#s" x="509.1" y="281.7"/><use href="#s" x="521.4" y="280.1"/><use href="#s" x="526.9" y="276.2"/><use href="#s" x="338.9" y="286.1"/><use href="#s" x="343.8" y="288.1"/><use href="#s" x="341.7" y="282.8"/><use href="#s" x="348.9" y="286.6"/><use href="#s" x="349.3" y="284.2"/><use href="#s" x="365.8" y="284.9"/><use href="#s" x="383.0" y="282.1"/><use href="#s" x="388.4" y="284.9"/><use href="#s" x="401.1" y="288.8"/><use href="#s" x="404.5" y="288.2"/><use href="#s" x="412.7" y="286.0"/><use href="#s" x="417.8" y="282.1"/><use href="#s" x="418.5" y="284.0"/><use href="#s" x="449.9" y="284.0"/><use href="#s" x="464.1" y="288.2"/><use href="#s" x="472.7" y="283.0"/><use href="#s" x="476.9" y="286.9"/><use href="#s" x="486.3" y="282.3"/><use href="#s" x="503.3" y="282.6"/><use href="#s" x="512.4" y="288.4"/><use href="#s" x="529.2" y="283.2"/><use href="#s" x="315.4" y="294.5"/><use href="#s" x="325.9" y="295.4"/><use href="#s" x="320.3" y="295.6"/><use href="#s" x="332.5" y="295.1"/><use href="#s" x="337.8" y="289.4"/><use href="#s" x="339.4" y="289.1"/><use href="#s" x="347.5" y="292.7"/><use href="#s" x="351.4" y="289.4"/><use href="#s" x="356.8" y="289.1"/><use href="#s" x="366.0" y="293.5"/><use href="#s" x="369.5" y="293.2"/><use href="#s" x="379.9" y="289.1"/><use href="#s" x="383.2" y="295.2"/><use href="#s" x="399.3" y="290.5"/><use href="#s" x="409.2" y="292.9"/><use href="#s" x="414.8" y="291.1"/><use href="#s" x="423.1" y="296.0"/><use href="#s" x="421.1" y="289.3"/><use href="#s" x="428.6" y="289.4"/><use href="#s" x="429.4" y="293.7"/><use href="#s" x="433.5" y="291.9"/><use href="#s" x="438.5" y="291.3"/><use href="#s" x="448.0" y="290.8"/><use href="#s" x="462.4" y="294.1"/><use href="#s" x="467.8" y="292.6"/><use href="#s" x="480.4" y="293.7"/><use href="#s" x="499.4" y="293.5"/><use href="#s" x="502.1" y="293.2"/><use href="#s" x="510.6" y="292.8"/><use href="#s" x="526.8" y="294.9"/><use href="#s" x="305.8" y="298.6"/><use href="#s" x="300.6" y="301.0"/><use href="#s" x="306.8" y="302.6"/><use href="#s" x="317.6" y="301.2"/><use href="#s" x="316.9" y="298.6"/><use href="#s" x="325.1" y="297.9"/><use href="#s" x="327.6" y="299.6"/><use href="#s" x="336.1" y="302.0"/><use href="#s" x="343.8" y="299.7"/><use href="#s" x="349.5" y="302.9"/><use href="#s" x="355.9" y="302.5"/><use href="#s" x="364.8" y="301.3"/><use href="#s" x="373.2" y="297.4"/><use href="#s" x="388.0" y="298.4"/><use href="#s" x="396.6" y="300.5"/><use href="#s" x="402.5" y="297.5"/><use href="#s" x="409.8" y="300.9"/><use href="#s" x="416.3" y="297.1"/><use href="#s" x="416.2" y="300.7"/><use href="#s" x="423.1" y="298.8"/><use href="#s" x="422.7" y="299.4"/><use href="#s" x="425.8" y="300.7"/><use href="#s" x="427.2" y="298.3"/><use href="#s" x="437.9" y="300.4"/><use href="#s" x="435.5" y="298.3"/><use href="#s" x="440.2" y="298.1"/><use href="#s" x="442.7" y="297.7"/><use href="#s" x="454.5" y="297.8"/><use href="#s" x="464.1" y="299.4"/><use href="#s" x="483.9" y="298.1"/><use href="#s" x="507.0" y="299.9"/><use href="#s" x="512.3" y="302.7"/><use href="#s" x="521.2" y="298.3"/><use href="#s" x="524.9" y="302.1"/><use href="#s" x="297.6" y="306.4"/><use href="#s" x="292.4" y="310.0"/><use href="#s" x="299.4" y="306.5"/><use href="#s" x="303.5" y="306.0"/><use href="#s" x="309.4" y="303.7"/><use href="#s" x="308.4" y="306.7"/><use href="#s" x="313.9" y="308.5"/><use href="#s" x="318.0" y="304.9"/><use href="#s" x="326.7" y="308.9"/><use href="#s" x="331.1" y="309.7"/><use href="#s" x="337.2" y="303.5"/><use href="#s" x="345.0" y="307.7"/><use href="#s" x="354.6" y="309.0"/><use href="#s" x="355.3" y="304.4"/><use href="#s" x="364.1" y="309.0"/><use href="#s" x="369.4" y="307.7"/><use href="#s" x="377.9" y="304.5"/><use href="#s" x="386.3" y="304.0"/><use href="#s" x="391.0" y="308.6"/><use href="#s" x="402.0" y="308.5"/><use href="#s" x="406.5" y="306.3"/><use href="#s" x="416.9" y="308.2"/><use href="#s" x="424.9" y="308.4"/><use href="#s" x="421.5" y="304.5"/><use href="#s" x="426.9" y="304.0"/><use href="#s" x="432.0" y="304.9"/><use href="#s" x="437.5" y="308.1"/><use href="#s" x="433.7" y="310.0"/><use href="#s" x="443.8" y="307.0"/><use href="#s" x="452.2" y="308.0"/><use href="#s" x="457.2" y="308.5"/><use href="#s" x="482.1" y="304.3"/><use href="#s" x="489.6" y="304.5"/><use href="#s" x="497.4" y="307.5"/><use href="#s" x="506.9" y="308.2"/><use href="#s" x="510.6" y="306.0"/><use href="#s" x="522.5" y="304.5"/><use href="#s" x="278.4" y="316.5"/><use href="#s" x="288.7" y="314.4"/><use href="#s" x="292.0" y="316.7"/><use href="#s" x="298.5" y="316.9"/><use href="#s" x="300.9" y="311.3"/><use href="#s" x="303.7" y="316.3"/><use href="#s" x="309.7" y="314.8"/><use href="#s" x="308.6" y="311.0"/><use href="#s" x="317.6" y="312.2"/><use href="#s" x="318.6" y="314.5"/><use href="#s" x="320.5" y="313.3"/><use href="#s" x="332.0" y="314.5"/><use href="#s" x="334.7" y="314.5"/><use href="#s" x="353.7" y="310.2"/><use href="#s" x="359.6" y="314.7"/><use href="#s" x="369.5" y="316.7"/><use href="#s" x="380.4" y="315.4"/><use href="#s" x="384.2" y="317.0"/><use href="#s" x="394.6" y="315.4"/><use href="#s" x="398.9" y="314.1"/><use href="#s" x="404.4" y="316.5"/><use href="#s" x="413.7" y="313.1"/><use href="#s" x="417.6" y="313.1"/><use href="#s" x="424.4" y="312.9"/><use href="#s" x="423.4" y="313.7"/><use href="#s" x="429.2" y="316.3"/><use href="#s" x="435.4" y="310.0"/><use href="#s" x="432.4" y="313.8"/><use href="#s" x="444.1" y="310.1"/><use href="#s" x="441.1" y="311.7"/><use href="#s" x="452.4" y="312.7"/><use href="#s" x="458.3" y="314.6"/><use href="#s" x="463.8" y="312.2"/><use href="#s" x="468.9" y="310.8"/><use href="#s" x="475.4" y="314.6"/><use href="#s" x="484.4" y="313.8"/><use href="#s" x="508.2" y="311.8"/><use href="#s" x="274.8" y="318.1"/><use href="#s" x="277.1" y="321.4"/><use href="#s" x="280.0" y="320.7"/><use href="#s" x="281.0" y="322.2"/><use href="#s" x="289.3" y="319.1"/><use href="#s" x="291.2" y="320.2"/><use href="#s" x="296.5" y="323.9"/><use href="#s" x="294.6" y="320.7"/><use href="#s" x="304.7" y="318.8"/><use href="#s" x="303.9" y="317.6"/><use href="#s" x="309.4" y="317.2"/><use href="#s" x="308.2" y="318.0"/><use href="#s" x="314.5" y="323.7"/><use href="#s" x="317.5" y="320.5"/><use href="#s" x="325.0" y="317.2"/><use href="#s" x="332.2" y="319.1"/><use href="#s" x="342.3" y="317.6"/><use href="#s" x="353.5" y="321.8"/><use href="#s" x="359.7" y="320.6"/><use href="#s" x="363.4" y="323.3"/><use href="#s" x="375.7" y="323.1"/><use href="#s" x="378.8" y="322.2"/><use href="#s" x="389.7" y="323.4"/><use href="#s" x="388.8" y="323.2"/><use href="#s" x="396.8" y="318.4"/><use href="#s" x="395.8" y="320.4"/><use href="#s" x="397.7" y="319.5"/><use href="#s" x="402.3" y="319.5"/><use href="#s" x="409.0" y="318.2"/><use href="#s" x="408.6" y="319.0"/><use href="#s" x="415.2" y="321.0"/><use href="#s" x="413.1" y="322.5"/><use href="#s" x="424.8" y="323.1"/><use href="#s" x="423.0" y="319.2"/><use href="#s" x="432.1" y="320.0"/><use href="#s" x="430.4" y="322.5"/><use href="#s" x="435.7" y="323.1"/><use href="#s" x="436.2" y="323.6"/><use href="#s" x="440.1" y="321.4"/><use href="#s" x="445.5" y="317.9"/><use href="#s" x="450.8" y="322.7"/><use href="#s" x="466.3" y="319.9"/><use href="#s" x="523.3" y="320.6"/><use href="#s" x="269.6" y="330.7"/><use href="#s" x="266.5" y="328.1"/><use href="#s" x="271.2" y="328.5"/><use href="#s" x="277.5" y="327.6"/><use href="#s" x="282.4" y="325.6"/><use href="#s" x="281.0" y="329.2"/><use href="#s" x="288.1" y="325.0"/><use href="#s" x="293.2" y="326.8"/><use href="#s" x="295.5" y="327.1"/><use href="#s" x="305.4" y="325.6"/><use href="#s" x="299.8" y="330.9"/><use href="#s" x="308.4" y="327.1"/><use href="#s" x="313.6" y="326.3"/><use href="#s" x="317.6" y="326.5"/><use href="#s" x="323.2" y="327.2"/><use href="#s" x="330.3" y="328.4"/><use href="#s" x="329.7" y="330.7"/><use href="#s" x="338.4" y="325.3"/><use href="#s" x="335.5" y="327.1"/><use href="#s" x="345.4" y="328.8"/><use href="#s" x="351.1" y="329.1"/><use href="#s" x="350.1" y="326.4"/><use href="#s" x="355.9" y="330.1"/><use href="#s" x="365.8" y="327.9"/><use href="#s" x="367.5" y="324.5"/><use href="#s" x="369.4" y="329.0"/><use href="#s" x="373.0" y="327.5"/><use href="#s" x="378.6" y="328.8"/><use href="#s" x="382.0" y="328.3"/><use href="#s" x="383.1" y="328.8"/><use href="#s" x="385.9" y="328.9"/><use href="#s" x="394.6" y="328.9"/><use href="#s" x="393.2" y="324.2"/><use href="#s" x="399.5" y="325.2"/><use href="#s" x="401.0" y="324.9"/><use href="#s" x="404.1" y="328.7"/><use href="#s" x="414.6" y="326.1"/><use href="#s" x="412.3" y="325.6"/><use href="#s" x="419.8" y="328.0"/><use href="#s" x="423.5" y="327.4"/><use href="#s" x="435.9" y="325.0"/><use href="#s" x="449.5" y="325.5"/><use href="#s" x="482.3" y="329.8"/><use href="#s" x="493.6" y="327.2"/><use href="#s" x="506.3" y="326.9"/><use href="#s" x="511.6" y="325.3"/><use href="#s" x="520.4" y="324.3"/><use href="#s" x="526.4" y="328.0"/><use href="#s" x="261.9" y="332.1"/><use href="#s" x="257.1" y="336.5"/><use href="#s" x="266.3" y="332.6"/><use href="#s" x="265.4" y="331.6"/><use href="#s" x="277.0" y="332.1"/><use href="#s" x="277.6" y="334.6"/><use href="#s" x="282.8" y="331.7"/><use href="#s" x="280.0" y="334.9"/><use href="#s" x="290.9" y="332.9"/><use href="#s" x="286.9" y="333.5"/><use href="#s" x="298.9" y="335.0"/><use href="#s" x="295.5" y="336.9"/><use href="#s" x="301.0" y="334.1"/><use href="#s" x="311.5" y="332.3"/><use href="#s" x="312.1" y="334.4"/><use href="#s" x="317.7" y="333.9"/><use href="#s" x="319.2" y="332.5"/><use href="#s" x="321.1" y="334.0"/><use href="#s" x="324.2" y="334.6"/><use href="#s" x="333.7" y="331.0"/><use href="#s" x="329.5" y="337.8"/><use href="#s" x="338.1" y="332.8"/><use href="#s" x="338.9" y="336.4"/><use href="#s" x="346.7" y="331.7"/><use href="#s" x="345.0" y="337.3"/><use href="#s" x="352.1" y="333.8"/><use href="#s" x="349.3" y="331.2"/><use href="#s" x="358.1" y="337.1"/><use href="#s" x="356.0" y="335.9"/><use href="#s" x="363.4" y="335.5"/><use href="#s" x="366.6" y="332.7"/><use href="#s" x="371.2" y="333.6"/><use href="#s" x="370.5" y="337.0"/><use href="#s" x="381.2" y="336.6"/><use href="#s" x="382.0" y="333.7"/><use href="#s" x="389.7" y="333.4"/><use href="#s" x="396.6" y="333.0"/><use href="#s" x="392.9" y="333.6"/><use href="#s" x="474.5" y="333.1"/><use href="#s" x="485.6" y="336.2"/><use href="#s" x="491.6" y="336.7"/><use href="#s" x="500.7" y="333.4"/><use href="#s" x="507.7" y="337.2"/><use href="#s" x="516.2" y="337.1"/><use href="#s" x="254.0" y="344.6"/><use href="#s" x="257.0" y="342.4"/><use href="#s" x="262.4" y="340.1"/><use href="#s" x="257.4" y="339.4"/><use href="#s" x="267.3" y="341.5"/><use href="#s" x="269.3" y="344.5"/><use href="#s" x="277.0" y="341.1"/><use href="#s" x="274.9" y="341.2"/><use href="#s" x="284.3" y="340.9"/><use href="#s" x="289.0" y="338.5"/><use href="#s" x="287.7" y="342.8"/><use href="#s" x="294.6" y="340.9"/><use href="#s" x="296.9" y="340.2"/><use href="#s" x="304.5" y="342.2"/><use href="#s" x="299.5" y="339.8"/><use href="#s" x="313.1" y="343.5"/><use href="#s" x="311.8" y="338.5"/><use href="#s" x="319.4" y="341.2"/><use href="#s" x="319.6" y="342.8"/><use href="#s" x="326.7" y="338.1"/><use href="#s" x="326.6" y="342.8"/><use href="#s" x="330.7" y="340.7"/><use href="#s" x="327.5" y="343.1"/><use href="#s" x="337.3" y="344.4"/><use href="#s" x="337.2" y="339.7"/><use href="#s" x="342.2" y="344.4"/><use href="#s" x="346.8" y="343.9"/><use href="#s" x="353.4" y="343.3"/><use href="#s" x="352.4" y="341.0"/><use href="#s" x="360.3" y="340.1"/><use href="#s" x="360.3" y="344.0"/><use href="#s" x="368.5" y="344.2"/><use href="#s" x="365.2" y="344.2"/><use href="#s" x="369.1" y="344.0"/><use href="#s" x="403.2" y="340.3"/><use href="#s" x="408.6" y="342.3"/><use href="#s" x="420.8" y="342.4"/><use href="#s" x="436.6" y="341.2"/><use href="#s" x="440.0" y="343.7"/><use href="#s" x="448.8" y="338.5"/><use href="#s" x="458.5" y="342.3"/><use href="#s" x="460.5" y="339.5"/><use href="#s" x="467.3" y="341.6"/><use href="#s" x="478.1" y="340.5"/><use href="#s" x="505.2" y="338.7"/><use href="#s" x="252.8" y="349.9"/><use href="#s" x="250.7" y="351.9"/><use href="#s" x="261.4" y="347.8"/><use href="#s" x="258.8" y="348.2"/><use href="#s" x="270.8" y="349.2"/><use href="#s" x="269.9" y="346.5"/><use href="#s" x="272.4" y="351.1"/><use href="#s" x="276.6" y="351.7"/><use href="#s" x="280.0" y="350.8"/><use href="#s" x="281.1" y="349.2"/><use href="#s" x="289.0" y="345.3"/><use href="#s" x="295.5" y="351.4"/><use href="#s" x="294.5" y="350.5"/><use href="#s" x="300.2" y="346.3"/><use href="#s" x="299.4" y="346.9"/><use href="#s" x="311.3" y="348.2"/><use href="#s" x="311.5" y="345.8"/><use href="#s" x="317.5" y="346.9"/><use href="#s" x="318.1" y="347.8"/><use href="#s" x="326.4" y="348.4"/><use href="#s" x="320.3" y="349.6"/><use href="#s" x="327.5" y="349.1"/><use href="#s" x="329.7" y="345.2"/><use href="#s" x="335.7" y="346.6"/><use href="#s" x="338.1" y="348.4"/><use href="#s" x="362.7" y="347.2"/><use href="#s" x="374.0" y="345.1"/><use href="#s" x="379.7" y="346.0"/><use href="#s" x="384.2" y="345.1"/><use href="#s" x="391.7" y="345.3"/><use href="#s" x="399.2" y="351.6"/><use href="#s" x="405.8" y="347.4"/><use href="#s" x="416.3" y="348.4"/><use href="#s" x="423.5" y="346.2"/><use href="#s" x="427.2" y="350.1"/><use href="#s" x="433.8" y="348.5"/><use href="#s" x="508.8" y="347.8"/><use href="#s" x="248.7" y="355.2"/><use href="#s" x="256.0" y="356.4"/><use href="#s" x="262.0" y="355.4"/><use href="#s" x="270.4" y="357.7"/><use href="#s" x="267.8" y="352.4"/><use href="#s" x="277.8" y="352.9"/><use href="#s" x="277.3" y="352.9"/><use href="#s" x="279.8" y="355.3"/><use href="#s" x="286.1" y="354.7"/><use href="#s" x="292.7" y="355.4"/><use href="#s" x="301.3" y="352.4"/><use href="#s" x="304.3" y="357.7"/><use href="#s" x="309.3" y="357.9"/><use href="#s" x="310.3" y="353.4"/><use href="#s" x="313.2" y="354.8"/><use href="#s" x="316.9" y="356.0"/><use href="#s" x="320.6" y="353.9"/><use href="#s" x="325.8" y="354.5"/><use href="#s" x="348.9" y="355.9"/><use href="#s" x="373.1" y="357.0"/><use href="#s" x="377.9" y="354.8"/><use href="#s" x="400.8" y="356.8"/><use href="#s" x="418.5" y="355.7"/><use href="#s" x="443.9" y="354.4"/><use href="#s" x="463.6" y="356.6"/><use href="#s" x="481.9" y="356.6"/><use href="#s" x="494.6" y="355.5"/><use href="#s" x="503.0" y="352.1"/><use href="#s" x="516.5" y="354.8"/><use href="#s" x="528.7" y="354.7"/><use href="#s" x="212.9" y="58.5"/><use href="#s" x="287.4" y="69.4"/><use href="#s" x="338.2" y="64.7"/><use href="#s" x="341.9" y="67.5"/><use href="#s" x="349.4" y="69.4"/><use href="#s" x="364.5" y="67.5"/><use href="#s" x="380.5" y="55.5"/><use href="#s" x="475.0" y="70.5"/><use href="#s" x="516.4" y="70.5"/><use href="#s" x="449.5" y="82.5"/><use href="#s" x="499.0" y="81.0"/><use href="#s" x="418.0" y="87.0"/><use href="#s" x="505.0" y="90.0"/><use href="#s" x="425.5" y="100.5"/><use href="#s" x="434.5" y="100.5"/><use href="#s" x="418.0" y="105.0"/><use href="#s" x="458.5" y="103.5"/><use href="#s" x="485.5" y="100.5"/><use href="#s" x="496.0" y="102.0"/><use href="#s" x="512.5" y="96.0"/><use href="#s" x="397.0" y="132.0"/><use href="#s" x="406.0" y="127.5"/><use href="#s" x="419.5" y="124.5"/><use href="#s" x="431.5" y="124.5"/><use href="#o" x="75.0" y="361.0"/><use href="#a" x="76.0" y="361.0"/><use href="#s" x="76.0" y="360.0"/><use href="#o" x="72.2" y="359.4"/><use href="#o" x="79.1" y="359.3"/><use href="#o" x="83.9" y="358.7"/><use href="#o" x="91.9" y="359.8"/><use href="#o" x="95.0" y="358.1"/><use href="#o" x="100.4" y="357.5"/><use href="#o" x="103.7" y="359.8"/><use href="#a" x="107.3" y="359.5"/><use href="#a" x="111.1" y="357.8"/><use href="#a" x="114.0" y="358.0"/><use href="#a" x="117.3" y="359.7"/><use href="#a" x="120.6" y="358.8"/><use href="#a" x="123.6" y="359.9"/><use href="#a" x="129.8" y="359.7"/><use href="#a" x="131.9" y="357.9"/><use href="#a" x="134.2" y="358.3"/><use href="#a" x="138.4" y="359.2"/><use href="#a" x="142.5" y="359.5"/><use href="#a" x="146.4" y="358.7"/><use href="#a" x="150.6" y="359.9"/><use href="#a" x="154.4" y="359.6"/><use href="#a" x="157.0" y="358.4"/><use href="#a" x="159.7" y="357.6"/><use href="#a" x="164.5" y="358.0"/><use href="#t" x="168.9" y="359.9"/><use href="#t" x="171.2" y="358.8"/><use href="#t" x="175.6" y="359.4"/><use href="#t" x="182.1" y="357.6"/><use href="#t" x="185.9" y="358.4"/><use href="#t" x="192.0" y="358.3"/><use href="#t" x="196.6" y="358.3"/><use href="#t" x="199.2" y="357.7"/><use href="#t" x="203.1" y="360.0"/><use href="#t" x="204.8" y="360.0"/><use href="#t" x="209.6" y="358.1"/><use href="#t" x="214.7" y="358.6"/><use href="#t" x="216.9" y="359.8"/><use href="#t" x="220.3" y="359.6"/><use href="#t" x="223.6" y="359.9"/><use href="#t" x="228.2" y="357.8"/><use href="#t" x="230.7" y="359.6"/><use href="#t" x="234.6" y="360.0"/><use href="#t" x="240.8" y="358.6"/><use href="#t" x="244.3" y="358.7"/><use href="#s" x="245.8" y="357.9"/><use href="#s" x="251.0" y="359.9"/><use href="#s" x="255.0" y="358.3"/><use href="#s" x="257.6" y="359.5"/><use href="#s" x="263.6" y="359.5"/><use href="#s" x="269.7" y="359.2"/><use href="#s" x="274.5" y="359.3"/><use href="#s" x="278.5" y="359.4"/><use href="#s" x="283.3" y="359.9"/><use href="#s" x="288.9" y="357.5"/><use href="#s" x="292.9" y="359.2"/><use href="#s" x="298.4" y="359.1"/><use href="#s" x="303.0" y="359.1"/><use href="#s" x="309.3" y="358.4"/><use href="#s" x="315.2" y="359.2"/><use href="#s" x="322.9" y="358.8"/><use href="#s" x="331.6" y="359.6"/><use href="#s" x="345.7" y="359.2"/><use href="#s" x="358.0" y="357.9"/><use href="#s" x="369.9" y="359.2"/><use href="#s" x="379.3" y="359.4"/><use href="#s" x="390.6" y="357.6"/><use href="#s" x="397.4" y="359.1"/><use href="#s" x="405.6" y="359.1"/><use href="#s" x="411.5" y="358.1"/><use href="#s" x="417.3" y="358.3"/><use href="#s" x="424.8" y="357.6"/><use href="#s" x="434.9" y="359.0"/><use href="#s" x="445.4" y="359.8"/><use href="#s" x="451.7" y="358.2"/><use href="#s" x="460.4" y="359.6"/><use href="#s" x="488.0" y="358.0"/><use href="#s" x="500.0" y="358.0"/><use href="#s" x="520.0" y="358.0"/><polyline points="178.0,45.5 176.9,70.0 177.8,96.0 179.2,124.5 179.2,160.0 178.0,183.0 175.8,215.8 173.8,255.0 173.5,267.6 106.8,361.4" fill="none" stroke="#1c1c1c" stroke-width="4.4" stroke-linejoin="round"/><polyline points="279.8,45.5 279.3,76.0 268.0,103.0 264.8,108.2 261.5,118.0 258.9,130.0 257.6,150.0 257.2,170.0 256.0,201.0 256.9,204.6 271.7,235.2 268.2,248.0 255.4,265.6 237.8,279.6 223.7,292.0 207.9,303.4 193.8,313.1 185.0,320.0 178.0,325.6 172.5,329.4 167.8,362.0" fill="none" stroke="#1c1c1c" stroke-width="4.4" stroke-linejoin="round"/><polyline points="359.5,45.5 359.7,76.2 364.7,96.0 369.6,109.0 389.3,133.8 397.6,151.8 403.0,173.6 406.6,184.4 411.2,205.7 412.7,221.0 411.2,239.3 404.5,259.0 396.4,267.3 363.6,278.2 336.4,287.5 330.0,290.8 309.6,298.1 298.0,303.9 286.4,311.2 271.8,321.4 260.9,331.5 243.1,361.5" fill="none" stroke="#1c1c1c" stroke-width="4.4" stroke-linejoin="round"/><line x1="395" y1="77.3" x2="178.5" y2="185.5" stroke="#ec1f27" stroke-width="2.6"/><line x1="395" y1="77.3" x2="257" y2="199" stroke="#ec1f27" stroke-width="2.6"/><line x1="395" y1="77.3" x2="388.7" y2="133.8" stroke="#ec1f27" stroke-width="2.6"/><text x="387.5" y="70.8" style="font-weight:bold;font-size:22px;fill:#2b4ea6">Upshift curve</text><use href="#s" x="515.3" y="69.8"/><text x="67.4" y="53.1" text-anchor="end" style="font-size:21px">100</text><text x="67.4" y="116.2" text-anchor="end" style="font-size:21px">80</text><text x="67.4" y="179.3" text-anchor="end" style="font-size:21px">60</text><text x="67.4" y="242.4" text-anchor="end" style="font-size:21px">40</text><text x="67.4" y="305.5" text-anchor="end" style="font-size:21px">20</text><text x="67.4" y="368.6" text-anchor="end" style="font-size:21px">0</text><text x="75.2" y="389.7" text-anchor="middle" style="font-size:21px">0</text><text x="189.8" y="389.7" text-anchor="middle" style="font-size:21px">20</text><text x="304.4" y="389.7" text-anchor="middle" style="font-size:21px">40</text><text x="419.1" y="389.7" text-anchor="middle" style="font-size:21px">60</text><text x="533.7" y="389.7" text-anchor="middle" style="font-size:21px">80</text><text x="232.3" y="419" style="font-size:22.2px">Velocity (km/h)</text><text transform="translate(23,340.8) rotate(-90)" style="font-size:22.2px">Accelerator pedal opening (%)</text><circle cx="116" cy="29.4" r="6.85" fill="none" stroke="#ec1f27" stroke-width="2.8"/><path d="M215.90 23.50L215.90 35.90M210.53 26.60L221.27 32.80M210.53 32.80L221.27 26.60" stroke="#6cbd45" stroke-width="3.2" stroke-linecap="round"/><path d="M311.6 24.6L318.1 36.2L305.1 36.2Z" fill="none" stroke="#2d50aa" stroke-width="2.5"/><polygon points="411.30,21.90 413.36,26.37 418.24,26.94 414.63,30.28 415.59,35.11 411.30,32.70 407.01,35.11 407.97,30.28 404.36,26.94 409.24,26.37" fill="none" stroke="#b750a0" stroke-width="2.4"/><text x="130" y="34.8" style="font-size:19.5px">1</text><text x="139.5" y="25.6" style="font-size:12px">st</text><text x="152.8" y="34.8" style="font-size:19.5px">gear</text><text x="224.5" y="34.8" style="font-size:19.5px">2</text><text x="235.3" y="25.6" style="font-size:12px">nd</text><text x="253.5" y="34.8" style="font-size:19.5px">gear</text><text x="324.3" y="34.8" style="font-size:19.5px">3</text><text x="334.3" y="25.6" style="font-size:12px">rd</text><text x="350.4" y="34.8" style="font-size:19.5px">gear</text><text x="429" y="34.8" style="font-size:19.5px">4</text><text x="438.7" y="25.6" style="font-size:12px">th</text><text x="452.6" y="34.8" style="font-size:19.5px">gear</text>
</svg></body></html>
